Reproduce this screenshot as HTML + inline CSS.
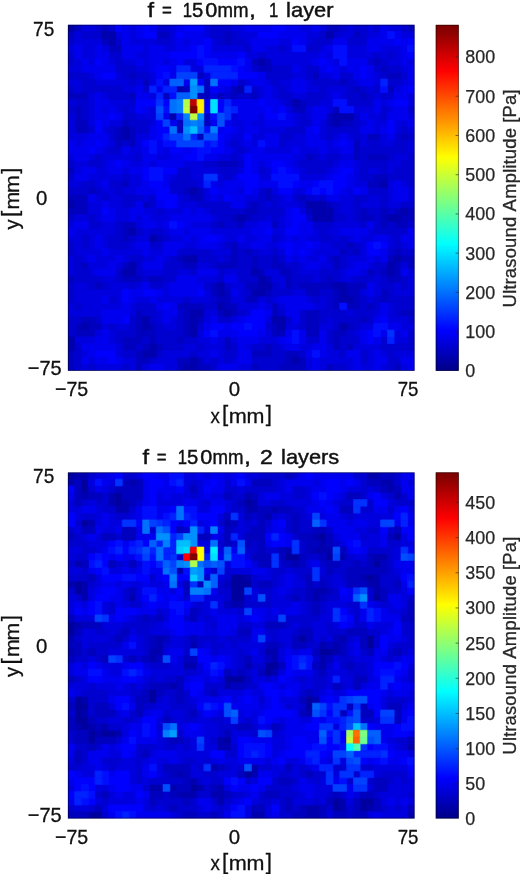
<!DOCTYPE html>
<html><head><meta charset="utf-8"><title>Ultrasound amplitude maps</title>
<style>
html,body{margin:0;padding:0;background:#fff;}
body{width:520px;height:874px;overflow:hidden;}
svg{display:block;}
text{font-family:"Liberation Sans",sans-serif;fill:#111;}
.c{font-size:17.9px;fill:#262626;stroke:#262626;stroke-width:0.25px;}
.h{fill:#262626;}
</style></head><body>
<svg width="520" height="874" viewBox="0 0 520 874">
<defs>
<filter id="b1" x="-5%" y="-5%" width="110%" height="110%"><feGaussianBlur stdDeviation="0.075"/></filter>
<filter id="b2" x="-5%" y="-5%" width="110%" height="110%"><feGaussianBlur stdDeviation="0.07"/></filter>

<linearGradient id="cb" x1="0" y1="0" x2="0" y2="1"><stop offset="0.0078" stop-color="#800000"/><stop offset="0.0234" stop-color="#8f0000"/><stop offset="0.0391" stop-color="#9f0000"/><stop offset="0.0547" stop-color="#af0000"/><stop offset="0.0703" stop-color="#bf0000"/><stop offset="0.0859" stop-color="#cf0000"/><stop offset="0.1016" stop-color="#df0000"/><stop offset="0.1172" stop-color="#ef0000"/><stop offset="0.1328" stop-color="#ff0000"/><stop offset="0.1484" stop-color="#ff1000"/><stop offset="0.1641" stop-color="#ff2000"/><stop offset="0.1797" stop-color="#ff3000"/><stop offset="0.1953" stop-color="#ff4000"/><stop offset="0.2109" stop-color="#ff5000"/><stop offset="0.2266" stop-color="#ff6000"/><stop offset="0.2422" stop-color="#ff7000"/><stop offset="0.2578" stop-color="#ff8000"/><stop offset="0.2734" stop-color="#ff8f00"/><stop offset="0.2891" stop-color="#ff9f00"/><stop offset="0.3047" stop-color="#ffaf00"/><stop offset="0.3203" stop-color="#ffbf00"/><stop offset="0.3359" stop-color="#ffcf00"/><stop offset="0.3516" stop-color="#ffdf00"/><stop offset="0.3672" stop-color="#ffef00"/><stop offset="0.3828" stop-color="#ffff00"/><stop offset="0.3984" stop-color="#efff10"/><stop offset="0.4141" stop-color="#dfff20"/><stop offset="0.4297" stop-color="#cfff30"/><stop offset="0.4453" stop-color="#bfff40"/><stop offset="0.4609" stop-color="#afff50"/><stop offset="0.4766" stop-color="#9fff60"/><stop offset="0.4922" stop-color="#8fff70"/><stop offset="0.5078" stop-color="#80ff80"/><stop offset="0.5234" stop-color="#70ff8f"/><stop offset="0.5391" stop-color="#60ff9f"/><stop offset="0.5547" stop-color="#50ffaf"/><stop offset="0.5703" stop-color="#40ffbf"/><stop offset="0.5859" stop-color="#30ffcf"/><stop offset="0.6016" stop-color="#20ffdf"/><stop offset="0.6172" stop-color="#10ffef"/><stop offset="0.6328" stop-color="#00ffff"/><stop offset="0.6484" stop-color="#00efff"/><stop offset="0.6641" stop-color="#00dfff"/><stop offset="0.6797" stop-color="#00cfff"/><stop offset="0.6953" stop-color="#00bfff"/><stop offset="0.7109" stop-color="#00afff"/><stop offset="0.7266" stop-color="#009fff"/><stop offset="0.7422" stop-color="#008fff"/><stop offset="0.7578" stop-color="#0080ff"/><stop offset="0.7734" stop-color="#0070ff"/><stop offset="0.7891" stop-color="#0060ff"/><stop offset="0.8047" stop-color="#0050ff"/><stop offset="0.8203" stop-color="#0040ff"/><stop offset="0.8359" stop-color="#0030ff"/><stop offset="0.8516" stop-color="#0020ff"/><stop offset="0.8672" stop-color="#0010ff"/><stop offset="0.8828" stop-color="#0000ff"/><stop offset="0.8984" stop-color="#0000ef"/><stop offset="0.9141" stop-color="#0000df"/><stop offset="0.9297" stop-color="#0000cf"/><stop offset="0.9453" stop-color="#0000bf"/><stop offset="0.9609" stop-color="#0000af"/><stop offset="0.9766" stop-color="#00009f"/><stop offset="0.9922" stop-color="#00008f"/></linearGradient>
<linearGradient id="cb2" x1="0" y1="0" x2="0" y2="1"><stop offset="0.0078" stop-color="#800000"/><stop offset="0.0234" stop-color="#8f0000"/><stop offset="0.0391" stop-color="#9f0000"/><stop offset="0.0547" stop-color="#af0000"/><stop offset="0.0703" stop-color="#bf0000"/><stop offset="0.0859" stop-color="#cf0000"/><stop offset="0.1016" stop-color="#df0000"/><stop offset="0.1172" stop-color="#ef0000"/><stop offset="0.1328" stop-color="#ff0000"/><stop offset="0.1484" stop-color="#ff1000"/><stop offset="0.1641" stop-color="#ff2000"/><stop offset="0.1797" stop-color="#ff3000"/><stop offset="0.1953" stop-color="#ff4000"/><stop offset="0.2109" stop-color="#ff5000"/><stop offset="0.2266" stop-color="#ff6000"/><stop offset="0.2422" stop-color="#ff7000"/><stop offset="0.2578" stop-color="#ff8000"/><stop offset="0.2734" stop-color="#ff8f00"/><stop offset="0.2891" stop-color="#ff9f00"/><stop offset="0.3047" stop-color="#ffaf00"/><stop offset="0.3203" stop-color="#ffbf00"/><stop offset="0.3359" stop-color="#ffcf00"/><stop offset="0.3516" stop-color="#ffdf00"/><stop offset="0.3672" stop-color="#ffef00"/><stop offset="0.3828" stop-color="#ffff00"/><stop offset="0.3984" stop-color="#efff10"/><stop offset="0.4141" stop-color="#dfff20"/><stop offset="0.4297" stop-color="#cfff30"/><stop offset="0.4453" stop-color="#bfff40"/><stop offset="0.4609" stop-color="#afff50"/><stop offset="0.4766" stop-color="#9fff60"/><stop offset="0.4922" stop-color="#8fff70"/><stop offset="0.5078" stop-color="#80ff80"/><stop offset="0.5234" stop-color="#70ff8f"/><stop offset="0.5391" stop-color="#60ff9f"/><stop offset="0.5547" stop-color="#50ffaf"/><stop offset="0.5703" stop-color="#40ffbf"/><stop offset="0.5859" stop-color="#30ffcf"/><stop offset="0.6016" stop-color="#20ffdf"/><stop offset="0.6172" stop-color="#10ffef"/><stop offset="0.6328" stop-color="#00ffff"/><stop offset="0.6484" stop-color="#00efff"/><stop offset="0.6641" stop-color="#00dfff"/><stop offset="0.6797" stop-color="#00cfff"/><stop offset="0.6953" stop-color="#00bfff"/><stop offset="0.7109" stop-color="#00afff"/><stop offset="0.7266" stop-color="#009fff"/><stop offset="0.7422" stop-color="#008fff"/><stop offset="0.7578" stop-color="#0080ff"/><stop offset="0.7734" stop-color="#0070ff"/><stop offset="0.7891" stop-color="#0060ff"/><stop offset="0.8047" stop-color="#0050ff"/><stop offset="0.8203" stop-color="#0040ff"/><stop offset="0.8359" stop-color="#0030ff"/><stop offset="0.8516" stop-color="#0020ff"/><stop offset="0.8672" stop-color="#0010ff"/><stop offset="0.8828" stop-color="#0000ff"/><stop offset="0.8984" stop-color="#0000ef"/><stop offset="0.9141" stop-color="#0000df"/><stop offset="0.9297" stop-color="#0000cf"/><stop offset="0.9453" stop-color="#0000bf"/><stop offset="0.9609" stop-color="#0000af"/><stop offset="0.9766" stop-color="#00009f"/><stop offset="0.9922" stop-color="#00008f"/></linearGradient>
</defs>
<rect width="520" height="874" fill="#fff"/>
<svg x="67.9" y="24.85" width="346.65" height="345.95" viewBox="0 0 51 51" preserveAspectRatio="none" overflow="hidden">
<g filter="url(#b1)" stroke-width="0.1" stroke-linejoin="miter">
<rect x="-2" y="-2" width="55" height="55" fill="#0000e0"/>
<path fill="#00009f" stroke="#00009f" d="M0 0h1v1h-1z"/>
<path fill="#0000bf" stroke="#0000bf" d="M1 0h1v1h-1zM5 0h1v1h-1zM38 0h2v1h-2zM50 0h1v1h-1zM0 1h1v1h-1zM13 1h2v1h-2zM23 1h1v1h-1zM42 1h1v1h-1zM5 2h1v1h-1zM23 2h1v1h-1zM6 3h2v1h-2zM27 5h1v1h-1zM29 5h1v1h-1zM45 5h1v1h-1zM28 6h2v1h-2zM46 6h1v1h-1zM9 7h1v1h-1zM19 7h1v1h-1zM36 7h1v1h-1zM47 7h2v1h-2zM11 8h1v1h-1zM20 8h1v1h-1zM40 8h1v1h-1zM17 9h1v1h-1zM20 9h1v1h-1zM24 9h1v1h-1zM42 9h1v1h-1zM47 9h1v1h-1zM0 10h3v1h-3zM9 10h1v1h-1zM14 10h1v1h-1zM19 10h2v1h-2zM22 10h1v1h-1zM24 10h1v1h-1zM27 10h1v1h-1zM43 10h1v1h-1zM34 11h1v1h-1zM1 12h1v1h-1zM33 12h2v1h-2zM39 12h1v1h-1zM1 13h1v1h-1zM20 13h1v1h-1zM38 13h1v1h-1zM1 14h2v1h-2zM8 14h1v1h-1zM16 14h1v1h-1zM20 14h1v1h-1zM38 14h1v1h-1zM40 14h2v1h-2zM1 15h2v1h-2zM7 15h1v1h-1zM9 15h1v1h-1zM16 15h1v1h-1zM7 16h1v1h-1zM9 16h1v1h-1zM19 16h1v1h-1zM44 16h2v1h-2zM49 16h1v1h-1zM7 17h1v1h-1zM9 17h1v1h-1zM42 17h1v1h-1zM42 18h1v1h-1zM35 19h1v1h-1zM42 19h1v1h-1zM44 19h3v1h-3zM22 20h3v1h-3zM0 21h1v1h-1zM45 22h2v1h-2zM8 23h1v1h-1zM44 23h2v1h-2zM3 24h1v1h-1zM17 24h1v1h-1zM19 24h1v1h-1zM29 24h1v1h-1zM0 25h3v1h-3zM18 25h2v1h-2zM29 25h1v1h-1zM34 25h1v1h-1zM1 26h2v1h-2zM11 26h1v1h-1zM27 26h1v1h-1zM38 26h1v1h-1zM0 27h3v1h-3zM26 27h2v1h-2zM35 27h1v1h-1zM43 27h1v1h-1zM46 27h1v1h-1zM48 27h1v1h-1zM50 27h1v1h-1zM24 28h1v1h-1zM26 28h1v1h-1zM43 28h2v1h-2zM46 28h1v1h-1zM49 28h2v1h-2zM8 29h2v1h-2zM22 29h1v1h-1zM25 29h1v1h-1zM30 29h1v1h-1zM46 29h1v1h-1zM48 29h2v1h-2zM8 30h1v1h-1zM8 31h1v1h-1zM13 31h1v1h-1zM24 32h1v1h-1zM41 32h1v1h-1zM24 33h1v1h-1zM26 33h1v1h-1zM40 33h1v1h-1zM42 33h1v1h-1zM48 33h1v1h-1zM16 34h1v1h-1zM24 34h1v1h-1zM27 34h1v1h-1zM30 34h1v1h-1zM39 34h1v1h-1zM47 34h1v1h-1zM49 34h2v1h-2zM2 35h1v1h-1zM8 35h1v1h-1zM17 35h2v1h-2zM22 35h3v1h-3zM27 35h1v1h-1zM30 35h2v1h-2zM39 35h1v1h-1zM48 35h1v1h-1zM50 35h1v1h-1zM28 36h1v1h-1zM31 36h2v1h-2zM44 36h1v1h-1zM46 36h1v1h-1zM48 36h1v1h-1zM0 37h1v1h-1zM8 37h3v1h-3zM12 37h2v1h-2zM29 37h1v1h-1zM32 37h1v1h-1zM38 37h1v1h-1zM47 37h2v1h-2zM4 38h1v1h-1zM21 38h1v1h-1zM26 38h2v1h-2zM32 38h1v1h-1zM34 38h5v1h-5zM41 38h3v1h-3zM21 39h1v1h-1zM23 39h1v1h-1zM29 39h1v1h-1zM35 39h2v1h-2zM39 39h1v1h-1zM41 39h2v1h-2zM46 39h1v1h-1zM22 40h2v1h-2zM26 40h2v1h-2zM39 40h1v1h-1zM42 40h1v1h-1zM46 40h1v1h-1zM16 41h4v1h-4zM23 41h2v1h-2zM30 41h1v1h-1zM39 41h1v1h-1zM41 41h2v1h-2zM44 41h1v1h-1zM10 42h1v1h-1zM17 42h1v1h-1zM22 42h1v1h-1zM24 42h1v1h-1zM30 42h1v1h-1zM35 42h2v1h-2zM49 42h2v1h-2zM2 43h2v1h-2zM10 43h1v1h-1zM17 43h1v1h-1zM19 43h1v1h-1zM35 43h2v1h-2zM43 43h1v1h-1zM1 44h1v1h-1zM3 44h2v1h-2zM10 44h1v1h-1zM12 44h1v1h-1zM17 44h1v1h-1zM30 44h1v1h-1zM35 44h2v1h-2zM41 44h1v1h-1zM1 45h3v1h-3zM10 45h3v1h-3zM17 45h1v1h-1zM30 45h2v1h-2zM35 45h2v1h-2zM39 45h2v1h-2zM8 46h3v1h-3zM12 46h1v1h-1zM16 46h1v1h-1zM23 46h1v1h-1zM39 46h1v1h-1zM8 47h2v1h-2zM11 47h1v1h-1zM13 47h1v1h-1zM23 47h1v1h-1zM29 47h1v1h-1zM39 47h1v1h-1zM41 47h1v1h-1zM0 48h1v1h-1zM10 48h1v1h-1zM27 48h3v1h-3zM32 48h2v1h-2zM0 49h1v1h-1zM10 49h2v1h-2zM16 49h2v1h-2zM19 49h1v1h-1zM32 49h1v1h-1zM34 49h1v1h-1zM0 50h1v1h-1zM10 50h1v1h-1zM16 50h1v1h-1zM19 50h2v1h-2zM27 50h1v1h-1zM31 50h4v1h-4zM38 50h1v1h-1zM48 50h1v1h-1z"/>
<path fill="#0000df" stroke="#0000df" d="M2 0h2v1h-2zM9 0h1v1h-1zM15 0h1v1h-1zM20 0h1v1h-1zM24 0h2v1h-2zM34 0h2v1h-2zM37 0h1v1h-1zM41 0h1v1h-1zM44 0h1v1h-1zM47 0h2v1h-2zM1 1h1v1h-1zM7 1h1v1h-1zM9 1h1v1h-1zM15 1h1v1h-1zM20 1h1v1h-1zM25 1h3v1h-3zM35 1h2v1h-2zM40 1h2v1h-2zM44 1h2v1h-2zM49 1h2v1h-2zM1 2h4v1h-4zM9 2h4v1h-4zM15 2h1v1h-1zM17 2h1v1h-1zM21 2h1v1h-1zM26 2h1v1h-1zM31 2h2v1h-2zM35 2h1v1h-1zM0 3h1v1h-1zM2 3h2v1h-2zM5 3h1v1h-1zM11 3h1v1h-1zM14 3h2v1h-2zM21 3h5v1h-5zM29 3h2v1h-2zM32 3h1v1h-1zM37 3h1v1h-1zM41 3h3v1h-3zM46 3h3v1h-3zM2 4h2v1h-2zM10 4h2v1h-2zM26 4h2v1h-2zM29 4h8v1h-8zM38 4h1v1h-1zM41 4h4v1h-4zM46 4h1v1h-1zM48 4h1v1h-1zM1 5h1v1h-1zM3 5h1v1h-1zM6 5h1v1h-1zM8 5h2v1h-2zM11 5h1v1h-1zM14 5h1v1h-1zM17 5h2v1h-2zM30 5h6v1h-6zM39 5h1v1h-1zM47 5h2v1h-2zM50 5h1v1h-1zM0 6h2v1h-2zM10 6h2v1h-2zM18 6h2v1h-2zM34 6h1v1h-1zM40 6h1v1h-1zM49 6h1v1h-1zM3 7h1v1h-1zM7 7h1v1h-1zM12 7h1v1h-1zM20 7h1v1h-1zM33 7h2v1h-2zM37 7h2v1h-2zM45 7h1v1h-1zM0 8h2v1h-2zM4 8h5v1h-5zM10 8h1v1h-1zM12 8h1v1h-1zM14 8h1v1h-1zM26 8h1v1h-1zM29 8h1v1h-1zM31 8h2v1h-2zM35 8h1v1h-1zM42 8h1v1h-1zM45 8h1v1h-1zM49 8h1v1h-1zM1 9h1v1h-1zM8 9h2v1h-2zM23 9h1v1h-1zM28 9h1v1h-1zM30 9h1v1h-1zM32 9h1v1h-1zM35 9h2v1h-2zM38 9h3v1h-3zM44 9h1v1h-1zM48 9h1v1h-1zM3 10h1v1h-1zM5 10h1v1h-1zM12 10h1v1h-1zM21 10h1v1h-1zM28 10h1v1h-1zM30 10h1v1h-1zM33 10h2v1h-2zM38 10h1v1h-1zM40 10h1v1h-1zM45 10h1v1h-1zM50 10h1v1h-1zM0 11h1v1h-1zM3 11h1v1h-1zM6 11h3v1h-3zM31 11h1v1h-1zM37 11h2v1h-2zM46 11h1v1h-1zM50 11h1v1h-1zM3 12h1v1h-1zM5 12h1v1h-1zM7 12h1v1h-1zM9 12h1v1h-1zM12 12h1v1h-1zM32 12h1v1h-1zM35 12h1v1h-1zM38 12h1v1h-1zM42 12h3v1h-3zM47 12h1v1h-1zM0 13h1v1h-1zM3 13h1v1h-1zM10 13h3v1h-3zM24 13h1v1h-1zM28 13h1v1h-1zM33 13h1v1h-1zM35 13h1v1h-1zM44 13h2v1h-2zM50 13h1v1h-1zM0 14h1v1h-1zM3 14h1v1h-1zM6 14h2v1h-2zM12 14h1v1h-1zM24 14h2v1h-2zM27 14h2v1h-2zM33 14h1v1h-1zM37 14h1v1h-1zM43 14h1v1h-1zM45 14h2v1h-2zM48 14h2v1h-2zM0 15h1v1h-1zM5 15h1v1h-1zM25 15h1v1h-1zM28 15h4v1h-4zM37 15h1v1h-1zM45 15h1v1h-1zM48 15h1v1h-1zM50 15h1v1h-1zM0 16h3v1h-3zM10 16h2v1h-2zM24 16h2v1h-2zM27 16h2v1h-2zM33 16h2v1h-2zM37 16h1v1h-1zM39 16h1v1h-1zM41 16h1v1h-1zM43 16h1v1h-1zM46 16h1v1h-1zM1 17h1v1h-1zM6 17h1v1h-1zM10 17h1v1h-1zM23 17h1v1h-1zM25 17h1v1h-1zM27 17h1v1h-1zM32 17h3v1h-3zM38 17h1v1h-1zM43 17h1v1h-1zM46 17h2v1h-2zM50 17h1v1h-1zM5 18h1v1h-1zM9 18h2v1h-2zM14 18h1v1h-1zM24 18h1v1h-1zM26 18h1v1h-1zM29 18h4v1h-4zM34 18h3v1h-3zM38 18h2v1h-2zM50 18h1v1h-1zM0 19h1v1h-1zM3 19h1v1h-1zM5 19h5v1h-5zM13 19h2v1h-2zM22 19h2v1h-2zM25 19h1v1h-1zM33 19h2v1h-2zM37 19h1v1h-1zM40 19h2v1h-2zM48 19h2v1h-2zM1 20h2v1h-2zM5 20h1v1h-1zM9 20h2v1h-2zM12 20h1v1h-1zM17 20h3v1h-3zM28 20h1v1h-1zM33 20h1v1h-1zM39 20h1v1h-1zM42 20h1v1h-1zM47 20h2v1h-2zM1 21h1v1h-1zM4 21h2v1h-2zM8 21h1v1h-1zM18 21h4v1h-4zM25 21h1v1h-1zM29 21h1v1h-1zM34 21h1v1h-1zM38 21h1v1h-1zM42 21h1v1h-1zM44 21h2v1h-2zM47 21h1v1h-1zM3 22h5v1h-5zM9 22h2v1h-2zM15 22h1v1h-1zM18 22h2v1h-2zM22 22h1v1h-1zM24 22h1v1h-1zM28 22h2v1h-2zM34 22h4v1h-4zM42 22h1v1h-1zM0 23h2v1h-2zM4 23h1v1h-1zM9 23h2v1h-2zM19 23h1v1h-1zM22 23h1v1h-1zM42 23h2v1h-2zM47 23h1v1h-1zM49 23h1v1h-1zM5 24h2v1h-2zM8 24h2v1h-2zM20 24h1v1h-1zM25 24h1v1h-1zM30 24h1v1h-1zM33 24h2v1h-2zM41 24h1v1h-1zM47 24h1v1h-1zM50 24h1v1h-1zM4 25h1v1h-1zM6 25h2v1h-2zM11 25h1v1h-1zM16 25h1v1h-1zM20 25h1v1h-1zM22 25h1v1h-1zM26 25h2v1h-2zM31 25h1v1h-1zM36 25h1v1h-1zM40 25h2v1h-2zM44 25h2v1h-2zM47 25h1v1h-1zM50 25h1v1h-1zM3 26h2v1h-2zM6 26h2v1h-2zM16 26h3v1h-3zM29 26h1v1h-1zM31 26h3v1h-3zM40 26h2v1h-2zM43 26h3v1h-3zM47 26h2v1h-2zM3 27h2v1h-2zM7 27h2v1h-2zM11 27h2v1h-2zM14 27h3v1h-3zM18 27h1v1h-1zM20 27h1v1h-1zM34 27h1v1h-1zM40 27h2v1h-2zM1 28h2v1h-2zM4 28h1v1h-1zM7 28h2v1h-2zM10 28h1v1h-1zM12 28h3v1h-3zM21 28h1v1h-1zM29 28h1v1h-1zM31 28h1v1h-1zM41 28h1v1h-1zM0 29h1v1h-1zM5 29h2v1h-2zM10 29h1v1h-1zM13 29h1v1h-1zM18 29h3v1h-3zM26 29h2v1h-2zM31 29h1v1h-1zM39 29h4v1h-4zM1 30h6v1h-6zM11 30h1v1h-1zM14 30h1v1h-1zM17 30h1v1h-1zM21 30h6v1h-6zM30 30h2v1h-2zM36 30h1v1h-1zM38 30h2v1h-2zM44 30h1v1h-1zM0 31h2v1h-2zM3 31h1v1h-1zM5 31h1v1h-1zM10 31h2v1h-2zM15 31h2v1h-2zM18 31h1v1h-1zM23 31h2v1h-2zM26 31h2v1h-2zM31 31h1v1h-1zM33 31h1v1h-1zM35 31h2v1h-2zM39 31h1v1h-1zM41 31h1v1h-1zM43 31h2v1h-2zM47 31h1v1h-1zM1 32h1v1h-1zM3 32h1v1h-1zM5 32h1v1h-1zM9 32h1v1h-1zM17 32h2v1h-2zM22 32h1v1h-1zM25 32h2v1h-2zM29 32h2v1h-2zM37 32h2v1h-2zM43 32h1v1h-1zM47 32h1v1h-1zM49 32h1v1h-1zM1 33h4v1h-4zM6 33h5v1h-5zM12 33h2v1h-2zM21 33h3v1h-3zM28 33h2v1h-2zM31 33h1v1h-1zM36 33h4v1h-4zM43 33h1v1h-1zM0 34h1v1h-1zM2 34h1v1h-1zM4 34h3v1h-3zM8 34h1v1h-1zM11 34h2v1h-2zM14 34h1v1h-1zM22 34h1v1h-1zM33 34h1v1h-1zM35 34h2v1h-2zM41 34h3v1h-3zM45 34h1v1h-1zM0 35h1v1h-1zM3 35h3v1h-3zM7 35h1v1h-1zM19 35h2v1h-2zM34 35h1v1h-1zM37 35h2v1h-2zM41 35h1v1h-1zM44 35h1v1h-1zM49 35h1v1h-1zM0 36h1v1h-1zM3 36h1v1h-1zM11 36h3v1h-3zM16 36h2v1h-2zM23 36h2v1h-2zM29 36h2v1h-2zM34 36h3v1h-3zM40 36h1v1h-1zM43 36h1v1h-1zM50 36h1v1h-1zM5 37h2v1h-2zM19 37h3v1h-3zM30 37h2v1h-2zM36 37h1v1h-1zM40 37h2v1h-2zM45 37h1v1h-1zM50 37h1v1h-1zM1 38h2v1h-2zM6 38h3v1h-3zM10 38h1v1h-1zM14 38h1v1h-1zM24 38h2v1h-2zM31 38h1v1h-1zM45 38h1v1h-1zM48 38h1v1h-1zM50 38h1v1h-1zM1 39h7v1h-7zM14 39h1v1h-1zM20 39h1v1h-1zM25 39h1v1h-1zM33 39h2v1h-2zM43 39h1v1h-1zM45 39h1v1h-1zM48 39h3v1h-3zM1 40h4v1h-4zM7 40h1v1h-1zM10 40h2v1h-2zM13 40h4v1h-4zM18 40h3v1h-3zM24 40h2v1h-2zM28 40h1v1h-1zM30 40h1v1h-1zM35 40h1v1h-1zM37 40h1v1h-1zM44 40h1v1h-1zM0 41h1v1h-1zM2 41h6v1h-6zM9 41h1v1h-1zM25 41h3v1h-3zM29 41h1v1h-1zM31 41h1v1h-1zM36 41h2v1h-2zM47 41h1v1h-1zM0 42h5v1h-5zM9 42h1v1h-1zM13 42h1v1h-1zM20 42h2v1h-2zM26 42h1v1h-1zM41 42h1v1h-1zM45 42h1v1h-1zM47 42h1v1h-1zM13 43h1v1h-1zM15 43h1v1h-1zM20 43h1v1h-1zM24 43h1v1h-1zM29 43h1v1h-1zM38 43h1v1h-1zM47 43h3v1h-3zM5 44h1v1h-1zM7 44h2v1h-2zM14 44h2v1h-2zM32 44h2v1h-2zM37 44h2v1h-2zM43 44h2v1h-2zM49 44h2v1h-2zM4 45h1v1h-1zM6 45h1v1h-1zM19 45h1v1h-1zM29 45h1v1h-1zM42 45h1v1h-1zM48 45h1v1h-1zM1 46h3v1h-3zM6 46h1v1h-1zM19 46h2v1h-2zM22 46h1v1h-1zM24 46h1v1h-1zM28 46h3v1h-3zM48 46h2v1h-2zM7 47h1v1h-1zM17 47h2v1h-2zM20 47h3v1h-3zM26 47h1v1h-1zM31 47h1v1h-1zM34 47h2v1h-2zM38 47h1v1h-1zM42 47h4v1h-4zM2 48h1v1h-1zM7 48h1v1h-1zM14 48h4v1h-4zM19 48h2v1h-2zM22 48h1v1h-1zM38 48h2v1h-2zM44 48h1v1h-1zM46 48h1v1h-1zM48 48h3v1h-3zM3 49h1v1h-1zM8 49h2v1h-2zM13 49h3v1h-3zM20 49h1v1h-1zM22 49h1v1h-1zM24 49h1v1h-1zM35 49h1v1h-1zM37 49h5v1h-5zM44 49h1v1h-1zM2 50h1v1h-1zM4 50h4v1h-4zM9 50h1v1h-1zM11 50h1v1h-1zM14 50h2v1h-2zM25 50h2v1h-2zM35 50h1v1h-1zM37 50h1v1h-1zM41 50h1v1h-1zM43 50h2v1h-2zM46 50h1v1h-1zM49 50h1v1h-1z"/>
<path fill="#0000cf" stroke="#0000cf" d="M4 0h1v1h-1zM6 0h1v1h-1zM13 0h2v1h-2zM21 0h3v1h-3zM40 0h1v1h-1zM42 0h2v1h-2zM45 0h1v1h-1zM49 0h1v1h-1zM2 1h3v1h-3zM21 1h2v1h-2zM24 1h1v1h-1zM37 1h1v1h-1zM39 1h1v1h-1zM43 1h1v1h-1zM0 2h1v1h-1zM7 2h1v1h-1zM13 2h2v1h-2zM22 2h1v1h-1zM24 2h2v1h-2zM36 2h3v1h-3zM41 2h3v1h-3zM26 3h1v1h-1zM31 3h1v1h-1zM35 3h2v1h-2zM0 4h1v1h-1zM6 4h2v1h-2zM28 4h1v1h-1zM45 4h1v1h-1zM47 4h1v1h-1zM0 5h1v1h-1zM7 5h1v1h-1zM44 5h1v1h-1zM46 5h1v1h-1zM7 6h3v1h-3zM27 6h1v1h-1zM30 6h3v1h-3zM35 6h2v1h-2zM45 6h1v1h-1zM47 6h2v1h-2zM0 7h3v1h-3zM8 7h1v1h-1zM10 7h2v1h-2zM29 7h4v1h-4zM35 7h1v1h-1zM40 7h2v1h-2zM46 7h1v1h-1zM49 7h1v1h-1zM2 8h2v1h-2zM9 8h1v1h-1zM25 8h1v1h-1zM30 8h1v1h-1zM36 8h4v1h-4zM41 8h1v1h-1zM47 8h2v1h-2zM0 9h1v1h-1zM2 9h6v1h-6zM11 9h1v1h-1zM27 9h1v1h-1zM31 9h1v1h-1zM37 9h1v1h-1zM41 9h1v1h-1zM43 9h1v1h-1zM45 9h1v1h-1zM6 10h3v1h-3zM23 10h1v1h-1zM25 10h2v1h-2zM31 10h2v1h-2zM35 10h3v1h-3zM41 10h2v1h-2zM44 10h1v1h-1zM46 10h2v1h-2zM1 11h2v1h-2zM9 11h1v1h-1zM32 11h1v1h-1zM35 11h2v1h-2zM41 11h4v1h-4zM0 12h1v1h-1zM2 12h1v1h-1zM8 12h1v1h-1zM46 12h1v1h-1zM50 12h1v1h-1zM2 13h1v1h-1zM8 13h2v1h-2zM34 13h1v1h-1zM42 13h1v1h-1zM46 13h1v1h-1zM9 14h3v1h-3zM34 14h2v1h-2zM42 14h1v1h-1zM3 15h1v1h-1zM6 15h1v1h-1zM10 15h2v1h-2zM32 15h3v1h-3zM38 15h5v1h-5zM49 15h1v1h-1zM6 16h1v1h-1zM31 16h2v1h-2zM38 16h1v1h-1zM42 16h1v1h-1zM48 16h1v1h-1zM50 16h1v1h-1zM8 17h1v1h-1zM24 17h1v1h-1zM31 17h1v1h-1zM44 17h2v1h-2zM48 17h2v1h-2zM6 18h2v1h-2zM25 18h1v1h-1zM43 18h7v1h-7zM4 19h1v1h-1zM10 19h1v1h-1zM24 19h1v1h-1zM36 19h1v1h-1zM38 19h2v1h-2zM43 19h1v1h-1zM47 19h1v1h-1zM50 19h1v1h-1zM0 20h1v1h-1zM3 20h2v1h-2zM20 20h2v1h-2zM25 20h1v1h-1zM34 20h5v1h-5zM43 20h4v1h-4zM49 20h2v1h-2zM16 21h2v1h-2zM22 21h3v1h-3zM28 21h1v1h-1zM35 21h3v1h-3zM43 21h1v1h-1zM46 21h1v1h-1zM48 21h3v1h-3zM0 22h1v1h-1zM8 22h1v1h-1zM16 22h2v1h-2zM23 22h1v1h-1zM43 22h2v1h-2zM47 22h4v1h-4zM2 23h2v1h-2zM6 23h2v1h-2zM15 23h4v1h-4zM50 23h1v1h-1zM0 24h3v1h-3zM4 24h1v1h-1zM7 24h1v1h-1zM15 24h2v1h-2zM28 24h1v1h-1zM44 24h3v1h-3zM5 25h1v1h-1zM8 25h3v1h-3zM12 25h1v1h-1zM17 25h1v1h-1zM28 25h1v1h-1zM30 25h1v1h-1zM33 25h1v1h-1zM35 25h1v1h-1zM37 25h1v1h-1zM42 25h2v1h-2zM46 25h1v1h-1zM8 26h2v1h-2zM12 26h1v1h-1zM19 26h5v1h-5zM26 26h1v1h-1zM28 26h1v1h-1zM30 26h1v1h-1zM34 26h1v1h-1zM39 26h1v1h-1zM42 26h1v1h-1zM46 26h1v1h-1zM49 26h2v1h-2zM13 27h1v1h-1zM21 27h5v1h-5zM28 27h4v1h-4zM39 27h1v1h-1zM42 27h1v1h-1zM44 27h2v1h-2zM47 27h1v1h-1zM0 28h1v1h-1zM3 28h1v1h-1zM22 28h2v1h-2zM27 28h2v1h-2zM30 28h1v1h-1zM35 28h1v1h-1zM39 28h2v1h-2zM42 28h1v1h-1zM45 28h1v1h-1zM3 29h2v1h-2zM7 29h1v1h-1zM21 29h1v1h-1zM23 29h2v1h-2zM36 29h3v1h-3zM43 29h1v1h-1zM45 29h1v1h-1zM47 29h1v1h-1zM50 29h1v1h-1zM7 30h1v1h-1zM10 30h1v1h-1zM12 30h2v1h-2zM37 30h1v1h-1zM45 30h5v1h-5zM2 31h1v1h-1zM6 31h2v1h-2zM9 31h1v1h-1zM14 31h1v1h-1zM30 31h1v1h-1zM37 31h2v1h-2zM40 31h1v1h-1zM48 31h1v1h-1zM0 32h1v1h-1zM2 32h1v1h-1zM6 32h3v1h-3zM12 32h2v1h-2zM23 32h1v1h-1zM39 32h2v1h-2zM42 32h1v1h-1zM48 32h1v1h-1zM0 33h1v1h-1zM16 33h5v1h-5zM25 33h1v1h-1zM27 33h1v1h-1zM30 33h1v1h-1zM41 33h1v1h-1zM47 33h1v1h-1zM49 33h2v1h-2zM1 34h1v1h-1zM9 34h2v1h-2zM15 34h1v1h-1zM19 34h3v1h-3zM23 34h1v1h-1zM25 34h2v1h-2zM28 34h2v1h-2zM31 34h1v1h-1zM38 34h1v1h-1zM40 34h1v1h-1zM1 35h1v1h-1zM10 35h1v1h-1zM14 35h3v1h-3zM21 35h1v1h-1zM25 35h2v1h-2zM28 35h2v1h-2zM32 35h2v1h-2zM40 35h1v1h-1zM45 35h2v1h-2zM1 36h2v1h-2zM7 36h1v1h-1zM10 36h1v1h-1zM14 36h2v1h-2zM18 36h1v1h-1zM22 36h1v1h-1zM25 36h2v1h-2zM33 36h1v1h-1zM37 36h3v1h-3zM45 36h1v1h-1zM1 37h4v1h-4zM7 37h1v1h-1zM11 37h1v1h-1zM14 37h2v1h-2zM22 37h1v1h-1zM25 37h3v1h-3zM33 37h3v1h-3zM37 37h1v1h-1zM39 37h1v1h-1zM42 37h3v1h-3zM46 37h1v1h-1zM49 37h1v1h-1zM0 38h1v1h-1zM3 38h1v1h-1zM5 38h1v1h-1zM9 38h1v1h-1zM12 38h2v1h-2zM20 38h1v1h-1zM23 38h1v1h-1zM30 38h1v1h-1zM33 38h1v1h-1zM46 38h2v1h-2zM49 38h1v1h-1zM0 39h1v1h-1zM26 39h1v1h-1zM30 39h3v1h-3zM37 39h2v1h-2zM47 39h1v1h-1zM0 40h1v1h-1zM6 40h1v1h-1zM17 40h1v1h-1zM21 40h1v1h-1zM29 40h1v1h-1zM36 40h1v1h-1zM38 40h1v1h-1zM43 40h1v1h-1zM45 40h1v1h-1zM47 40h4v1h-4zM1 41h1v1h-1zM10 41h3v1h-3zM20 41h2v1h-2zM38 41h1v1h-1zM43 41h1v1h-1zM45 41h1v1h-1zM48 41h3v1h-3zM11 42h2v1h-2zM16 42h1v1h-1zM25 42h1v1h-1zM31 42h1v1h-1zM34 42h1v1h-1zM37 42h4v1h-4zM42 42h3v1h-3zM48 42h1v1h-1zM0 43h2v1h-2zM4 43h1v1h-1zM9 43h1v1h-1zM12 43h1v1h-1zM16 43h1v1h-1zM22 43h2v1h-2zM32 43h1v1h-1zM34 43h1v1h-1zM37 43h1v1h-1zM39 43h4v1h-4zM44 43h1v1h-1zM50 43h1v1h-1zM0 44h1v1h-1zM6 44h1v1h-1zM9 44h1v1h-1zM13 44h1v1h-1zM16 44h1v1h-1zM19 44h1v1h-1zM29 44h1v1h-1zM34 44h1v1h-1zM39 44h1v1h-1zM42 44h1v1h-1zM0 45h1v1h-1zM7 45h3v1h-3zM13 45h4v1h-4zM38 45h1v1h-1zM41 45h1v1h-1zM50 45h1v1h-1zM7 46h1v1h-1zM11 46h1v1h-1zM13 46h3v1h-3zM17 46h2v1h-2zM35 46h2v1h-2zM38 46h1v1h-1zM40 46h3v1h-3zM46 46h1v1h-1zM50 46h1v1h-1zM1 47h1v1h-1zM10 47h1v1h-1zM14 47h3v1h-3zM19 47h1v1h-1zM24 47h1v1h-1zM27 47h2v1h-2zM30 47h1v1h-1zM40 47h1v1h-1zM46 47h5v1h-5zM1 48h1v1h-1zM8 48h2v1h-2zM13 48h1v1h-1zM18 48h1v1h-1zM23 48h2v1h-2zM30 48h2v1h-2zM34 48h1v1h-1zM40 48h1v1h-1zM43 48h1v1h-1zM47 48h1v1h-1zM1 49h1v1h-1zM12 49h1v1h-1zM21 49h1v1h-1zM23 49h1v1h-1zM27 49h5v1h-5zM43 49h1v1h-1zM47 49h2v1h-2zM1 50h1v1h-1zM3 50h1v1h-1zM8 50h1v1h-1zM21 50h1v1h-1zM28 50h3v1h-3zM39 50h2v1h-2zM47 50h1v1h-1z"/>
<path fill="#0000ff" stroke="#0000ff" d="M7 0h1v1h-1zM11 0h1v1h-1zM17 0h3v1h-3zM30 0h2v1h-2zM11 1h2v1h-2zM16 1h1v1h-1zM28 1h3v1h-3zM20 2h1v1h-1zM33 2h1v1h-1zM48 2h1v1h-1zM50 2h1v1h-1zM18 3h1v1h-1zM20 3h1v1h-1zM15 4h4v1h-4zM20 4h1v1h-1zM25 4h1v1h-1zM50 4h1v1h-1zM4 5h1v1h-1zM16 5h1v1h-1zM19 5h1v1h-1zM22 5h3v1h-3zM37 5h1v1h-1zM13 6h2v1h-2zM25 6h1v1h-1zM38 6h1v1h-1zM43 6h1v1h-1zM5 7h2v1h-2zM13 7h1v1h-1zM25 7h3v1h-3zM43 7h1v1h-1zM19 8h1v1h-1zM22 8h2v1h-2zM21 9h1v1h-1zM50 9h1v1h-1zM10 11h3v1h-3zM14 11h1v1h-1zM22 11h1v1h-1zM28 11h1v1h-1zM48 11h2v1h-2zM10 12h1v1h-1zM20 12h1v1h-1zM22 12h1v1h-1zM29 12h1v1h-1zM31 12h1v1h-1zM6 13h1v1h-1zM29 13h2v1h-2zM4 14h1v1h-1zM13 14h1v1h-1zM47 14h1v1h-1zM4 15h1v1h-1zM13 15h2v1h-2zM23 15h1v1h-1zM36 15h1v1h-1zM47 15h1v1h-1zM13 16h1v1h-1zM22 16h1v1h-1zM26 16h1v1h-1zM4 17h1v1h-1zM11 17h1v1h-1zM22 17h1v1h-1zM40 17h1v1h-1zM3 18h1v1h-1zM15 18h2v1h-2zM18 18h1v1h-1zM21 18h2v1h-2zM17 19h2v1h-2zM26 19h1v1h-1zM7 20h1v1h-1zM26 20h1v1h-1zM30 20h2v1h-2zM11 21h1v1h-1zM14 21h2v1h-2zM26 21h1v1h-1zM30 21h1v1h-1zM32 21h1v1h-1zM40 21h2v1h-2zM11 22h1v1h-1zM25 22h3v1h-3zM39 22h2v1h-2zM12 23h2v1h-2zM26 23h2v1h-2zM33 23h1v1h-1zM36 23h1v1h-1zM39 23h2v1h-2zM13 24h2v1h-2zM21 24h1v1h-1zM26 24h1v1h-1zM31 24h2v1h-2zM35 24h1v1h-1zM37 24h1v1h-1zM39 24h1v1h-1zM42 24h1v1h-1zM13 25h3v1h-3zM23 25h1v1h-1zM14 26h2v1h-2zM5 27h1v1h-1zM33 27h1v1h-1zM33 28h2v1h-2zM16 29h1v1h-1zM33 29h1v1h-1zM29 30h1v1h-1zM32 30h2v1h-2zM20 31h2v1h-2zM32 32h1v1h-1zM35 32h1v1h-1zM44 32h1v1h-1zM46 32h1v1h-1zM32 33h1v1h-1zM34 33h1v1h-1zM44 33h2v1h-2zM8 39h1v1h-1zM11 39h2v1h-2zM19 39h1v1h-1zM8 40h1v1h-1zM14 41h1v1h-1zM27 42h2v1h-2zM8 43h1v1h-1zM26 43h3v1h-3zM46 43h1v1h-1zM21 44h2v1h-2zM24 44h2v1h-2zM27 44h2v1h-2zM20 45h1v1h-1zM25 45h3v1h-3zM44 45h1v1h-1zM32 46h1v1h-1zM44 46h1v1h-1zM4 48h3v1h-3zM6 49h1v1h-1z"/>
<path fill="#0000ef" stroke="#0000ef" d="M8 0h1v1h-1zM10 0h1v1h-1zM12 0h1v1h-1zM16 0h1v1h-1zM26 0h4v1h-4zM32 0h2v1h-2zM36 0h1v1h-1zM46 0h1v1h-1zM8 1h1v1h-1zM10 1h1v1h-1zM17 1h3v1h-3zM31 1h4v1h-4zM46 1h1v1h-1zM48 1h1v1h-1zM8 2h1v1h-1zM16 2h1v1h-1zM18 2h2v1h-2zM27 2h4v1h-4zM34 2h1v1h-1zM39 2h2v1h-2zM44 2h4v1h-4zM49 2h1v1h-1zM1 3h1v1h-1zM4 3h1v1h-1zM8 3h3v1h-3zM12 3h2v1h-2zM16 3h2v1h-2zM27 3h2v1h-2zM38 3h1v1h-1zM44 3h2v1h-2zM49 3h1v1h-1zM1 4h1v1h-1zM4 4h2v1h-2zM8 4h2v1h-2zM12 4h3v1h-3zM21 4h4v1h-4zM37 4h1v1h-1zM49 4h1v1h-1zM2 5h1v1h-1zM5 5h1v1h-1zM10 5h1v1h-1zM12 5h2v1h-2zM15 5h1v1h-1zM26 5h1v1h-1zM36 5h1v1h-1zM38 5h1v1h-1zM41 5h3v1h-3zM49 5h1v1h-1zM2 6h5v1h-5zM12 6h1v1h-1zM15 6h1v1h-1zM26 6h1v1h-1zM33 6h1v1h-1zM37 6h1v1h-1zM39 6h1v1h-1zM41 6h2v1h-2zM44 6h1v1h-1zM50 6h1v1h-1zM4 7h1v1h-1zM15 7h1v1h-1zM28 7h1v1h-1zM39 7h1v1h-1zM42 7h1v1h-1zM44 7h1v1h-1zM50 7h1v1h-1zM17 8h1v1h-1zM24 8h1v1h-1zM27 8h2v1h-2zM33 8h2v1h-2zM43 8h2v1h-2zM50 8h1v1h-1zM10 9h1v1h-1zM13 9h1v1h-1zM22 9h1v1h-1zM29 9h1v1h-1zM33 9h2v1h-2zM49 9h1v1h-1zM4 10h1v1h-1zM10 10h2v1h-2zM29 10h1v1h-1zM39 10h1v1h-1zM48 10h2v1h-2zM4 11h2v1h-2zM20 11h1v1h-1zM24 11h4v1h-4zM29 11h2v1h-2zM45 11h1v1h-1zM47 11h1v1h-1zM4 12h1v1h-1zM6 12h1v1h-1zM11 12h1v1h-1zM25 12h4v1h-4zM30 12h1v1h-1zM36 12h2v1h-2zM45 12h1v1h-1zM48 12h2v1h-2zM4 13h2v1h-2zM7 13h1v1h-1zM14 13h1v1h-1zM25 13h3v1h-3zM32 13h1v1h-1zM36 13h2v1h-2zM43 13h1v1h-1zM47 13h3v1h-3zM5 14h1v1h-1zM15 14h1v1h-1zM21 14h1v1h-1zM23 14h1v1h-1zM26 14h1v1h-1zM29 14h4v1h-4zM36 14h1v1h-1zM44 14h1v1h-1zM50 14h1v1h-1zM12 15h1v1h-1zM22 15h1v1h-1zM24 15h1v1h-1zM26 15h2v1h-2zM35 15h1v1h-1zM43 15h2v1h-2zM46 15h1v1h-1zM3 16h3v1h-3zM12 16h1v1h-1zM23 16h1v1h-1zM29 16h2v1h-2zM35 16h2v1h-2zM40 16h1v1h-1zM47 16h1v1h-1zM0 17h1v1h-1zM2 17h2v1h-2zM5 17h1v1h-1zM13 17h1v1h-1zM26 17h1v1h-1zM29 17h2v1h-2zM35 17h3v1h-3zM39 17h1v1h-1zM41 17h1v1h-1zM0 18h3v1h-3zM4 18h1v1h-1zM8 18h1v1h-1zM11 18h1v1h-1zM13 18h1v1h-1zM17 18h1v1h-1zM23 18h1v1h-1zM27 18h2v1h-2zM33 18h1v1h-1zM37 18h1v1h-1zM40 18h2v1h-2zM1 19h2v1h-2zM11 19h2v1h-2zM15 19h2v1h-2zM20 19h2v1h-2zM27 19h6v1h-6zM6 20h1v1h-1zM8 20h1v1h-1zM11 20h1v1h-1zM13 20h4v1h-4zM27 20h1v1h-1zM29 20h1v1h-1zM32 20h1v1h-1zM40 20h2v1h-2zM2 21h2v1h-2zM6 21h2v1h-2zM9 21h2v1h-2zM27 21h1v1h-1zM33 21h1v1h-1zM39 21h1v1h-1zM1 22h2v1h-2zM14 22h1v1h-1zM38 22h1v1h-1zM41 22h1v1h-1zM5 23h1v1h-1zM11 23h1v1h-1zM14 23h1v1h-1zM21 23h1v1h-1zM23 23h3v1h-3zM28 23h3v1h-3zM34 23h2v1h-2zM41 23h1v1h-1zM48 23h1v1h-1zM10 24h3v1h-3zM22 24h3v1h-3zM27 24h1v1h-1zM40 24h1v1h-1zM43 24h1v1h-1zM48 24h2v1h-2zM3 25h1v1h-1zM21 25h1v1h-1zM24 25h2v1h-2zM32 25h1v1h-1zM38 25h2v1h-2zM48 25h2v1h-2zM5 26h1v1h-1zM10 26h1v1h-1zM13 26h1v1h-1zM24 26h2v1h-2zM6 27h1v1h-1zM9 27h2v1h-2zM17 27h1v1h-1zM19 27h1v1h-1zM32 27h1v1h-1zM5 28h2v1h-2zM9 28h1v1h-1zM11 28h1v1h-1zM15 28h6v1h-6zM32 28h1v1h-1zM1 29h2v1h-2zM11 29h2v1h-2zM14 29h1v1h-1zM17 29h1v1h-1zM28 29h2v1h-2zM32 29h1v1h-1zM34 29h2v1h-2zM44 29h1v1h-1zM0 30h1v1h-1zM15 30h2v1h-2zM18 30h3v1h-3zM27 30h2v1h-2zM34 30h2v1h-2zM40 30h4v1h-4zM50 30h1v1h-1zM4 31h1v1h-1zM17 31h1v1h-1zM19 31h1v1h-1zM22 31h1v1h-1zM25 31h1v1h-1zM28 31h2v1h-2zM32 31h1v1h-1zM34 31h1v1h-1zM42 31h1v1h-1zM45 31h2v1h-2zM49 31h2v1h-2zM4 32h1v1h-1zM10 32h2v1h-2zM14 32h3v1h-3zM19 32h3v1h-3zM27 32h2v1h-2zM31 32h1v1h-1zM33 32h2v1h-2zM36 32h1v1h-1zM50 32h1v1h-1zM5 33h1v1h-1zM11 33h1v1h-1zM14 33h2v1h-2zM33 33h1v1h-1zM35 33h1v1h-1zM46 33h1v1h-1zM3 34h1v1h-1zM7 34h1v1h-1zM13 34h1v1h-1zM32 34h1v1h-1zM34 34h1v1h-1zM37 34h1v1h-1zM44 34h1v1h-1zM46 34h1v1h-1zM6 35h1v1h-1zM11 35h3v1h-3zM35 35h2v1h-2zM42 35h2v1h-2zM4 36h3v1h-3zM19 36h3v1h-3zM41 36h2v1h-2zM49 36h1v1h-1zM16 37h3v1h-3zM23 37h2v1h-2zM11 38h1v1h-1zM15 38h5v1h-5zM44 38h1v1h-1zM9 39h2v1h-2zM13 39h1v1h-1zM15 39h4v1h-4zM24 39h1v1h-1zM44 39h1v1h-1zM5 40h1v1h-1zM9 40h1v1h-1zM12 40h1v1h-1zM31 40h4v1h-4zM8 41h1v1h-1zM13 41h1v1h-1zM15 41h1v1h-1zM28 41h1v1h-1zM32 41h4v1h-4zM46 41h1v1h-1zM5 42h4v1h-4zM14 42h2v1h-2zM29 42h1v1h-1zM32 42h2v1h-2zM46 42h1v1h-1zM5 43h3v1h-3zM14 43h1v1h-1zM21 43h1v1h-1zM25 43h1v1h-1zM33 43h1v1h-1zM45 43h1v1h-1zM20 44h1v1h-1zM23 44h1v1h-1zM47 44h2v1h-2zM5 45h1v1h-1zM22 45h3v1h-3zM28 45h1v1h-1zM32 45h1v1h-1zM34 45h1v1h-1zM37 45h1v1h-1zM43 45h1v1h-1zM46 45h1v1h-1zM49 45h1v1h-1zM4 46h2v1h-2zM21 46h1v1h-1zM25 46h3v1h-3zM31 46h1v1h-1zM34 46h1v1h-1zM37 46h1v1h-1zM43 46h1v1h-1zM45 46h1v1h-1zM2 47h5v1h-5zM25 47h1v1h-1zM32 47h2v1h-2zM36 47h2v1h-2zM3 48h1v1h-1zM21 48h1v1h-1zM25 48h2v1h-2zM35 48h1v1h-1zM37 48h1v1h-1zM41 48h2v1h-2zM45 48h1v1h-1zM2 49h1v1h-1zM4 49h2v1h-2zM7 49h1v1h-1zM25 49h2v1h-2zM36 49h1v1h-1zM42 49h1v1h-1zM45 49h2v1h-2zM49 49h2v1h-2zM12 50h2v1h-2zM22 50h3v1h-3zM36 50h1v1h-1zM42 50h1v1h-1zM45 50h1v1h-1zM50 50h1v1h-1z"/>
<path fill="#0000af" stroke="#0000af" d="M5 1h2v1h-2zM38 1h1v1h-1zM6 2h1v1h-1zM28 5h1v1h-1zM16 9h1v1h-1zM25 9h1v1h-1zM33 11h1v1h-1zM15 13h1v1h-1zM39 13h3v1h-3zM39 14h1v1h-1zM8 15h1v1h-1zM8 16h1v1h-1zM46 23h1v1h-1zM18 24h1v1h-1zM0 26h1v1h-1zM35 26h3v1h-3zM36 27h3v1h-3zM49 27h1v1h-1zM25 28h1v1h-1zM36 28h3v1h-3zM47 28h2v1h-2zM9 30h1v1h-1zM12 31h1v1h-1zM17 34h2v1h-2zM48 34h1v1h-1zM9 35h1v1h-1zM47 35h1v1h-1zM8 36h2v1h-2zM27 36h1v1h-1zM47 36h1v1h-1zM28 37h1v1h-1zM22 38h1v1h-1zM28 38h2v1h-2zM39 38h2v1h-2zM22 39h1v1h-1zM27 39h2v1h-2zM40 39h1v1h-1zM40 40h2v1h-2zM22 41h1v1h-1zM18 42h2v1h-2zM23 42h1v1h-1zM11 43h1v1h-1zM18 43h1v1h-1zM30 43h2v1h-2zM2 44h1v1h-1zM11 44h1v1h-1zM18 44h1v1h-1zM31 44h1v1h-1zM40 44h1v1h-1zM18 45h1v1h-1zM0 46h1v1h-1zM0 47h1v1h-1zM12 47h1v1h-1zM11 48h2v1h-2zM18 49h1v1h-1zM33 49h1v1h-1zM17 50h2v1h-2z"/>
<path fill="#0010ff" stroke="#0010ff" d="M47 1h1v1h-1zM19 3h1v1h-1zM33 3h2v1h-2zM39 3h2v1h-2zM50 3h1v1h-1zM19 4h1v1h-1zM39 4h2v1h-2zM20 5h2v1h-2zM25 5h1v1h-1zM40 5h1v1h-1zM24 6h1v1h-1zM14 7h1v1h-1zM13 8h1v1h-1zM46 9h1v1h-1zM15 10h1v1h-1zM39 11h2v1h-2zM14 12h1v1h-1zM40 12h2v1h-2zM21 13h1v1h-1zM31 13h1v1h-1zM20 15h1v1h-1zM12 17h1v1h-1zM14 17h2v1h-2zM20 17h1v1h-1zM28 17h1v1h-1zM12 18h1v1h-1zM19 18h2v1h-2zM19 19h1v1h-1zM12 21h2v1h-2zM31 21h1v1h-1zM12 22h2v1h-2zM30 22h4v1h-4zM31 23h2v1h-2zM37 23h2v1h-2zM36 24h1v1h-1zM38 24h1v1h-1zM15 29h1v1h-1zM45 32h1v1h-1zM40 41h1v1h-1zM26 44h1v1h-1zM45 44h2v1h-2zM21 45h1v1h-1zM33 45h1v1h-1zM45 45h1v1h-1zM33 46h1v1h-1zM36 48h1v1h-1z"/>
<path fill="#0020ff" stroke="#0020ff" d="M16 6h2v1h-2zM20 6h4v1h-4zM21 7h4v1h-4zM46 8h1v1h-1zM12 9h1v1h-1zM14 9h2v1h-2zM26 9h1v1h-1zM13 10h1v1h-1zM23 11h1v1h-1zM24 12h1v1h-1zM16 13h1v1h-1zM14 16h1v1h-1zM18 16h1v1h-1zM21 17h1v1h-1zM20 23h1v1h-1zM47 46h1v1h-1z"/>
<path fill="#0040ff" stroke="#0040ff" d="M16 7h3v1h-3zM13 13h1v1h-1zM14 14h1v1h-1zM15 16h2v1h-2zM16 17h4v1h-4z"/>
<path fill="#0060ff" stroke="#0060ff" d="M15 8h2v1h-2zM16 10h2v1h-2zM19 15h1v1h-1z"/>
<path fill="#009fff" stroke="#009fff" d="M18 8h1v1h-1z"/>
<path fill="#0070ff" stroke="#0070ff" d="M21 8h1v1h-1zM19 9h1v1h-1zM15 11h1v1h-1zM15 12h1v1h-1zM17 14h1v1h-1zM19 14h1v1h-1zM15 15h1v1h-1zM17 16h1v1h-1z"/>
<path fill="#008fff" stroke="#008fff" d="M18 9h1v1h-1zM18 10h1v1h-1zM19 13h1v1h-1zM17 15h1v1h-1z"/>
<path fill="#0030ff" stroke="#0030ff" d="M13 11h1v1h-1zM23 12h1v1h-1zM23 13h1v1h-1zM20 22h2v1h-2zM47 45h1v1h-1z"/>
<path fill="#0080ff" stroke="#0080ff" d="M16 11h1v1h-1zM16 12h1v1h-1zM17 13h1v1h-1zM18 14h1v1h-1zM21 15h1v1h-1z"/>
<path fill="#afff50" stroke="#afff50" d="M17 11h1v1h-1z"/>
<path fill="#bf0000" stroke="#bf0000" d="M18 11h1v1h-1z"/>
<path fill="#ffef00" stroke="#ffef00" d="M19 11h1v1h-1zM19 12h1v1h-1z"/>
<path fill="#00dfff" stroke="#00dfff" d="M21 11h1v1h-1zM21 12h1v1h-1z"/>
<path fill="#0050ff" stroke="#0050ff" d="M13 12h1v1h-1zM22 13h1v1h-1zM22 14h1v1h-1zM20 16h2v1h-2z"/>
<path fill="#bfff40" stroke="#bfff40" d="M17 12h1v1h-1zM18 13h1v1h-1z"/>
<path fill="#800000" stroke="#800000" d="M18 12h1v1h-1z"/>
<path fill="#00bfff" stroke="#00bfff" d="M18 15h1v1h-1z"/>
</g></svg>
<rect x="435.75" y="24.85" width="23.0" height="346.0" fill="url(#cb)"/>
<svg x="67.9" y="472.4" width="346.65" height="346.1" viewBox="0 0 51 51" preserveAspectRatio="none" overflow="hidden">
<g filter="url(#b2)" stroke-width="0.1" stroke-linejoin="miter">
<rect x="-2" y="-2" width="55" height="55" fill="#0000e0"/>
<path fill="#00009f" stroke="#00009f" d="M0 0h1v1h-1zM2 1h1v1h-1zM2 2h1v1h-1zM7 3h1v1h-1zM7 4h1v1h-1zM26 4h1v1h-1zM2 7h1v1h-1zM37 9h1v1h-1zM48 9h1v1h-1zM32 12h2v1h-2zM38 12h1v1h-1zM45 13h1v1h-1zM24 15h2v1h-2zM44 15h1v1h-1zM1 16h1v1h-1zM24 16h3v1h-3zM1 17h1v1h-1zM24 17h2v1h-2zM24 18h2v1h-2zM45 18h1v1h-1zM0 22h1v1h-1zM0 23h1v1h-1zM34 24h1v1h-1zM44 24h1v1h-1zM44 25h1v1h-1zM37 26h2v1h-2zM29 28h2v1h-2zM29 29h1v1h-1zM23 30h3v1h-3zM12 32h1v1h-1zM1 33h1v1h-1zM12 33h1v1h-1zM35 33h1v1h-1zM1 34h2v1h-2zM35 34h1v1h-1zM1 35h1v1h-1zM1 36h2v1h-2zM2 37h1v1h-1zM3 38h1v1h-1zM5 38h2v1h-2zM3 39h1v1h-1zM23 39h1v1h-1zM26 44h1v1h-1zM18 46h1v1h-1zM39 48h1v1h-1zM43 48h2v1h-2zM39 49h1v1h-1zM43 49h1v1h-1zM3 50h2v1h-2z"/>
<path fill="#0000af" stroke="#0000af" d="M1 0h2v1h-2zM44 0h2v1h-2zM0 1h1v1h-1zM9 1h1v1h-1zM46 1h2v1h-2zM47 2h1v1h-1zM2 3h1v1h-1zM6 3h1v1h-1zM26 3h1v1h-1zM48 3h1v1h-1zM6 4h1v1h-1zM8 4h1v1h-1zM27 4h1v1h-1zM7 5h2v1h-2zM26 5h2v1h-2zM30 5h1v1h-1zM29 6h1v1h-1zM3 7h1v1h-1zM23 7h1v1h-1zM36 9h1v1h-1zM37 10h1v1h-1zM32 11h1v1h-1zM36 11h3v1h-3zM40 12h1v1h-1zM45 12h2v1h-2zM1 13h1v1h-1zM33 13h1v1h-1zM16 14h1v1h-1zM26 15h1v1h-1zM43 15h1v1h-1zM45 15h1v1h-1zM0 16h1v1h-1zM2 16h1v1h-1zM44 16h2v1h-2zM2 17h1v1h-1zM36 17h2v1h-2zM45 17h1v1h-1zM2 18h1v1h-1zM9 18h1v1h-1zM36 18h1v1h-1zM24 19h2v1h-2zM1 22h1v1h-1zM0 24h1v1h-1zM13 24h1v1h-1zM40 24h1v1h-1zM13 25h1v1h-1zM18 25h1v1h-1zM37 25h1v1h-1zM39 25h1v1h-1zM0 26h1v1h-1zM12 26h2v1h-2zM29 26h2v1h-2zM39 26h1v1h-1zM12 27h1v1h-1zM30 27h1v1h-1zM37 27h1v1h-1zM17 28h2v1h-2zM26 28h1v1h-1zM37 28h1v1h-1zM30 29h1v1h-1zM15 31h1v1h-1zM23 31h1v1h-1zM2 33h1v1h-1zM36 33h1v1h-1zM2 35h1v1h-1zM35 35h1v1h-1zM1 37h1v1h-1zM3 37h1v1h-1zM5 37h1v1h-1zM4 38h1v1h-1zM7 38h1v1h-1zM22 39h1v1h-1zM22 40h2v1h-2zM50 40h1v1h-1zM21 43h1v1h-1zM27 43h1v1h-1zM16 44h1v1h-1zM27 44h1v1h-1zM18 45h1v1h-1zM12 46h2v1h-2zM15 46h1v1h-1zM19 46h1v1h-1zM22 46h1v1h-1zM16 47h3v1h-3zM21 47h2v1h-2zM22 48h1v1h-1zM40 48h1v1h-1zM35 49h2v1h-2zM40 49h1v1h-1zM44 49h1v1h-1zM27 50h2v1h-2zM35 50h2v1h-2zM50 50h1v1h-1z"/>
<path fill="#0000cf" stroke="#0000cf" d="M3 0h1v1h-1zM8 0h2v1h-2zM28 0h4v1h-4zM33 0h1v1h-1zM42 0h2v1h-2zM48 0h1v1h-1zM18 1h1v1h-1zM23 1h1v1h-1zM30 1h1v1h-1zM43 1h1v1h-1zM48 1h1v1h-1zM3 2h1v1h-1zM6 2h1v1h-1zM23 2h2v1h-2zM26 2h5v1h-5zM33 2h2v1h-2zM43 2h1v1h-1zM45 2h1v1h-1zM5 3h1v1h-1zM18 3h1v1h-1zM24 3h2v1h-2zM33 3h2v1h-2zM43 3h1v1h-1zM47 3h1v1h-1zM49 3h1v1h-1zM2 4h1v1h-1zM4 4h2v1h-2zM10 4h1v1h-1zM20 4h1v1h-1zM24 4h1v1h-1zM30 4h2v1h-2zM40 4h2v1h-2zM44 4h1v1h-1zM48 4h3v1h-3zM5 5h2v1h-2zM9 5h1v1h-1zM24 5h2v1h-2zM33 5h2v1h-2zM43 5h2v1h-2zM47 5h1v1h-1zM2 6h2v1h-2zM7 6h2v1h-2zM27 6h1v1h-1zM30 6h1v1h-1zM32 6h1v1h-1zM34 6h1v1h-1zM41 6h1v1h-1zM1 7h1v1h-1zM22 7h1v1h-1zM26 7h1v1h-1zM29 7h1v1h-1zM32 7h1v1h-1zM34 7h2v1h-2zM0 8h1v1h-1zM12 8h1v1h-1zM17 8h1v1h-1zM24 8h1v1h-1zM26 8h1v1h-1zM32 8h1v1h-1zM34 8h2v1h-2zM38 8h1v1h-1zM44 8h2v1h-2zM47 8h1v1h-1zM1 9h1v1h-1zM7 9h1v1h-1zM33 9h1v1h-1zM43 9h1v1h-1zM0 10h3v1h-3zM22 10h1v1h-1zM24 10h1v1h-1zM27 10h1v1h-1zM34 10h1v1h-1zM39 10h1v1h-1zM47 10h2v1h-2zM2 11h2v1h-2zM26 11h2v1h-2zM29 11h2v1h-2zM34 11h1v1h-1zM44 11h4v1h-4zM1 12h2v1h-2zM16 12h1v1h-1zM35 12h2v1h-2zM41 12h1v1h-1zM47 12h1v1h-1zM0 13h1v1h-1zM7 13h1v1h-1zM31 13h1v1h-1zM37 13h1v1h-1zM40 13h2v1h-2zM43 13h1v1h-1zM47 13h1v1h-1zM2 14h1v1h-1zM21 14h1v1h-1zM23 14h1v1h-1zM30 14h2v1h-2zM33 14h3v1h-3zM39 14h2v1h-2zM47 14h1v1h-1zM0 15h3v1h-3zM12 15h1v1h-1zM20 15h1v1h-1zM23 15h1v1h-1zM27 15h1v1h-1zM30 15h1v1h-1zM34 15h1v1h-1zM37 15h2v1h-2zM40 15h1v1h-1zM46 15h3v1h-3zM3 16h1v1h-1zM22 16h1v1h-1zM27 16h1v1h-1zM30 16h1v1h-1zM36 16h1v1h-1zM38 16h1v1h-1zM46 16h2v1h-2zM0 17h1v1h-1zM8 17h1v1h-1zM22 17h2v1h-2zM28 17h2v1h-2zM33 17h2v1h-2zM39 17h1v1h-1zM44 17h1v1h-1zM47 17h2v1h-2zM1 18h1v1h-1zM8 18h1v1h-1zM17 18h1v1h-1zM23 18h1v1h-1zM26 18h1v1h-1zM29 18h1v1h-1zM32 18h1v1h-1zM34 18h1v1h-1zM38 18h2v1h-2zM44 18h1v1h-1zM50 18h1v1h-1zM6 19h1v1h-1zM9 19h2v1h-2zM19 19h1v1h-1zM26 19h4v1h-4zM35 19h1v1h-1zM37 19h1v1h-1zM41 19h2v1h-2zM46 19h1v1h-1zM6 20h1v1h-1zM13 20h1v1h-1zM19 20h1v1h-1zM25 20h1v1h-1zM35 20h1v1h-1zM37 20h1v1h-1zM42 20h1v1h-1zM49 20h1v1h-1zM10 21h1v1h-1zM12 21h1v1h-1zM17 21h1v1h-1zM20 21h1v1h-1zM32 21h5v1h-5zM42 21h1v1h-1zM8 22h5v1h-5zM21 22h1v1h-1zM25 22h2v1h-2zM32 22h1v1h-1zM34 22h2v1h-2zM38 22h1v1h-1zM42 22h2v1h-2zM49 22h2v1h-2zM4 23h2v1h-2zM7 23h1v1h-1zM10 23h2v1h-2zM29 23h2v1h-2zM33 23h1v1h-1zM38 23h3v1h-3zM44 23h2v1h-2zM49 23h2v1h-2zM1 24h1v1h-1zM6 24h1v1h-1zM8 24h1v1h-1zM11 24h1v1h-1zM17 24h1v1h-1zM19 24h3v1h-3zM23 24h4v1h-4zM30 24h1v1h-1zM37 24h1v1h-1zM41 24h1v1h-1zM45 24h1v1h-1zM50 24h1v1h-1zM3 25h5v1h-5zM11 25h1v1h-1zM14 25h1v1h-1zM17 25h1v1h-1zM19 25h1v1h-1zM21 25h2v1h-2zM24 25h1v1h-1zM31 25h1v1h-1zM35 25h2v1h-2zM45 25h1v1h-1zM48 25h3v1h-3zM2 26h1v1h-1zM4 26h2v1h-2zM11 26h1v1h-1zM17 26h1v1h-1zM21 26h1v1h-1zM25 26h1v1h-1zM28 26h1v1h-1zM43 26h1v1h-1zM47 26h1v1h-1zM49 26h1v1h-1zM1 27h2v1h-2zM4 27h1v1h-1zM8 27h1v1h-1zM10 27h1v1h-1zM25 27h1v1h-1zM36 27h1v1h-1zM40 27h2v1h-2zM47 27h1v1h-1zM12 28h3v1h-3zM25 28h1v1h-1zM27 28h2v1h-2zM38 28h1v1h-1zM40 28h1v1h-1zM42 28h2v1h-2zM17 29h2v1h-2zM24 29h1v1h-1zM26 29h1v1h-1zM36 29h1v1h-1zM41 29h3v1h-3zM50 29h1v1h-1zM1 30h1v1h-1zM12 30h1v1h-1zM14 30h2v1h-2zM29 30h1v1h-1zM34 30h1v1h-1zM36 30h2v1h-2zM50 30h1v1h-1zM3 31h1v1h-1zM9 31h1v1h-1zM11 31h1v1h-1zM20 31h3v1h-3zM26 31h2v1h-2zM36 31h2v1h-2zM40 31h1v1h-1zM2 32h4v1h-4zM9 32h2v1h-2zM14 32h2v1h-2zM17 32h1v1h-1zM20 32h1v1h-1zM34 32h1v1h-1zM36 32h1v1h-1zM0 33h1v1h-1zM3 33h3v1h-3zM13 33h1v1h-1zM15 33h1v1h-1zM17 33h1v1h-1zM28 33h1v1h-1zM47 33h3v1h-3zM3 34h1v1h-1zM11 34h2v1h-2zM15 34h4v1h-4zM32 34h1v1h-1zM34 34h1v1h-1zM0 35h1v1h-1zM3 35h1v1h-1zM9 35h1v1h-1zM14 35h1v1h-1zM17 35h1v1h-1zM4 36h2v1h-2zM8 36h2v1h-2zM15 36h1v1h-1zM17 36h2v1h-2zM21 36h2v1h-2zM26 36h1v1h-1zM43 36h2v1h-2zM6 37h2v1h-2zM13 37h1v1h-1zM22 37h3v1h-3zM27 37h1v1h-1zM31 37h1v1h-1zM0 38h1v1h-1zM16 38h1v1h-1zM22 38h1v1h-1zM27 38h1v1h-1zM30 38h1v1h-1zM0 39h1v1h-1zM7 39h1v1h-1zM14 39h1v1h-1zM17 39h1v1h-1zM21 39h1v1h-1zM48 39h2v1h-2zM1 40h2v1h-2zM4 40h1v1h-1zM10 40h3v1h-3zM14 40h2v1h-2zM17 40h1v1h-1zM24 40h1v1h-1zM49 40h1v1h-1zM2 41h1v1h-1zM10 41h1v1h-1zM23 41h2v1h-2zM2 42h1v1h-1zM5 42h3v1h-3zM10 42h1v1h-1zM17 42h2v1h-2zM20 42h1v1h-1zM0 43h2v1h-2zM6 43h1v1h-1zM10 43h1v1h-1zM19 43h1v1h-1zM23 43h1v1h-1zM25 43h1v1h-1zM28 43h2v1h-2zM34 43h1v1h-1zM39 43h2v1h-2zM43 43h2v1h-2zM10 44h1v1h-1zM14 44h1v1h-1zM20 44h2v1h-2zM31 44h2v1h-2zM34 44h1v1h-1zM36 44h2v1h-2zM42 44h1v1h-1zM46 44h4v1h-4zM10 45h1v1h-1zM12 45h5v1h-5zM19 45h1v1h-1zM21 45h2v1h-2zM26 45h1v1h-1zM30 45h1v1h-1zM33 45h1v1h-1zM36 45h1v1h-1zM41 45h1v1h-1zM44 45h1v1h-1zM47 45h1v1h-1zM49 45h1v1h-1zM11 46h1v1h-1zM20 46h1v1h-1zM29 46h4v1h-4zM4 47h1v1h-1zM14 47h1v1h-1zM19 47h2v1h-2zM24 47h2v1h-2zM28 47h1v1h-1zM31 47h3v1h-3zM38 47h1v1h-1zM40 47h1v1h-1zM45 47h1v1h-1zM50 47h1v1h-1zM5 48h1v1h-1zM13 48h4v1h-4zM18 48h1v1h-1zM21 48h1v1h-1zM23 48h1v1h-1zM28 48h2v1h-2zM31 48h1v1h-1zM36 48h1v1h-1zM0 49h1v1h-1zM3 49h1v1h-1zM12 49h1v1h-1zM14 49h1v1h-1zM16 49h3v1h-3zM22 49h1v1h-1zM31 49h1v1h-1zM33 49h1v1h-1zM38 49h1v1h-1zM41 49h1v1h-1zM46 49h1v1h-1zM48 49h1v1h-1zM5 50h1v1h-1zM16 50h1v1h-1zM19 50h2v1h-2zM22 50h1v1h-1zM31 50h2v1h-2zM41 50h1v1h-1z"/>
<path fill="#0000df" stroke="#0000df" d="M4 0h2v1h-2zM10 0h1v1h-1zM17 0h2v1h-2zM20 0h1v1h-1zM23 0h1v1h-1zM26 0h2v1h-2zM3 1h1v1h-1zM6 1h1v1h-1zM17 1h1v1h-1zM19 1h1v1h-1zM31 1h1v1h-1zM36 1h1v1h-1zM50 1h1v1h-1zM5 2h1v1h-1zM17 2h1v1h-1zM19 2h1v1h-1zM25 2h1v1h-1zM31 2h1v1h-1zM35 2h1v1h-1zM41 2h2v1h-2zM44 2h1v1h-1zM13 3h1v1h-1zM15 3h3v1h-3zM19 3h1v1h-1zM21 3h2v1h-2zM28 3h1v1h-1zM31 3h2v1h-2zM35 3h1v1h-1zM40 3h1v1h-1zM46 3h1v1h-1zM0 4h1v1h-1zM3 4h1v1h-1zM13 4h4v1h-4zM19 4h1v1h-1zM23 4h1v1h-1zM28 4h2v1h-2zM32 4h4v1h-4zM39 4h1v1h-1zM47 4h1v1h-1zM0 5h2v1h-2zM4 5h1v1h-1zM19 5h2v1h-2zM23 5h1v1h-1zM50 5h1v1h-1zM1 6h1v1h-1zM4 6h1v1h-1zM6 6h1v1h-1zM9 6h1v1h-1zM22 6h1v1h-1zM25 6h1v1h-1zM31 6h1v1h-1zM35 6h1v1h-1zM37 6h1v1h-1zM40 6h1v1h-1zM42 6h6v1h-6zM4 7h1v1h-1zM6 7h2v1h-2zM19 7h1v1h-1zM25 7h1v1h-1zM27 7h1v1h-1zM41 7h1v1h-1zM44 7h2v1h-2zM1 8h1v1h-1zM5 8h2v1h-2zM20 8h1v1h-1zM25 8h1v1h-1zM29 8h1v1h-1zM42 8h2v1h-2zM2 9h1v1h-1zM4 9h1v1h-1zM22 9h1v1h-1zM25 9h1v1h-1zM39 9h1v1h-1zM44 9h2v1h-2zM49 9h1v1h-1zM3 10h3v1h-3zM19 10h2v1h-2zM40 10h1v1h-1zM43 10h3v1h-3zM49 10h2v1h-2zM0 11h2v1h-2zM4 11h1v1h-1zM22 11h1v1h-1zM48 11h1v1h-1zM0 12h1v1h-1zM26 12h1v1h-1zM42 12h2v1h-2zM48 12h1v1h-1zM8 13h1v1h-1zM10 13h1v1h-1zM23 13h1v1h-1zM27 13h1v1h-1zM35 13h1v1h-1zM0 14h2v1h-2zM6 14h2v1h-2zM9 14h1v1h-1zM24 14h3v1h-3zM29 14h1v1h-1zM32 14h1v1h-1zM37 14h1v1h-1zM48 14h1v1h-1zM4 15h1v1h-1zM22 15h1v1h-1zM28 15h2v1h-2zM31 15h1v1h-1zM33 15h1v1h-1zM39 15h1v1h-1zM4 16h1v1h-1zM7 16h1v1h-1zM9 16h2v1h-2zM12 16h2v1h-2zM16 16h1v1h-1zM31 16h1v1h-1zM33 16h2v1h-2zM39 16h2v1h-2zM3 17h1v1h-1zM10 17h1v1h-1zM15 17h1v1h-1zM27 17h1v1h-1zM30 17h1v1h-1zM32 17h1v1h-1zM49 17h1v1h-1zM0 18h1v1h-1zM3 18h1v1h-1zM10 18h1v1h-1zM20 18h3v1h-3zM27 18h1v1h-1zM30 18h2v1h-2zM49 18h1v1h-1zM0 19h1v1h-1zM2 19h1v1h-1zM5 19h1v1h-1zM8 19h1v1h-1zM18 19h1v1h-1zM20 19h1v1h-1zM22 19h1v1h-1zM30 19h3v1h-3zM34 19h1v1h-1zM38 19h3v1h-3zM45 19h1v1h-1zM47 19h1v1h-1zM49 19h1v1h-1zM0 20h1v1h-1zM5 20h1v1h-1zM14 20h1v1h-1zM20 20h1v1h-1zM22 20h3v1h-3zM29 20h1v1h-1zM31 20h1v1h-1zM34 20h1v1h-1zM38 20h1v1h-1zM41 20h1v1h-1zM47 20h2v1h-2zM1 21h3v1h-3zM9 21h1v1h-1zM14 21h1v1h-1zM19 21h1v1h-1zM21 21h1v1h-1zM25 21h1v1h-1zM29 21h2v1h-2zM37 21h2v1h-2zM5 22h3v1h-3zM13 22h1v1h-1zM20 22h1v1h-1zM27 22h2v1h-2zM33 22h1v1h-1zM36 22h2v1h-2zM39 22h1v1h-1zM45 22h3v1h-3zM2 23h2v1h-2zM6 23h1v1h-1zM9 23h1v1h-1zM12 23h3v1h-3zM20 23h2v1h-2zM24 23h1v1h-1zM31 23h2v1h-2zM36 23h2v1h-2zM46 23h1v1h-1zM2 24h4v1h-4zM10 24h1v1h-1zM15 24h2v1h-2zM22 24h1v1h-1zM29 24h1v1h-1zM31 24h2v1h-2zM36 24h1v1h-1zM38 24h1v1h-1zM42 24h1v1h-1zM49 24h1v1h-1zM2 25h1v1h-1zM10 25h1v1h-1zM15 25h2v1h-2zM20 25h1v1h-1zM23 25h1v1h-1zM25 25h4v1h-4zM32 25h1v1h-1zM41 25h1v1h-1zM47 25h1v1h-1zM6 26h5v1h-5zM14 26h1v1h-1zM22 26h3v1h-3zM26 26h1v1h-1zM31 26h1v1h-1zM33 26h1v1h-1zM41 26h1v1h-1zM50 26h1v1h-1zM3 27h1v1h-1zM16 27h1v1h-1zM24 27h1v1h-1zM27 27h2v1h-2zM31 27h1v1h-1zM39 27h1v1h-1zM42 27h3v1h-3zM46 27h1v1h-1zM48 27h1v1h-1zM0 28h1v1h-1zM2 28h1v1h-1zM5 28h3v1h-3zM11 28h1v1h-1zM15 28h2v1h-2zM19 28h1v1h-1zM24 28h1v1h-1zM44 28h1v1h-1zM50 28h1v1h-1zM0 29h1v1h-1zM6 29h2v1h-2zM12 29h5v1h-5zM19 29h1v1h-1zM27 29h1v1h-1zM31 29h1v1h-1zM38 29h3v1h-3zM44 29h1v1h-1zM2 30h1v1h-1zM11 30h1v1h-1zM13 30h1v1h-1zM17 30h1v1h-1zM20 30h1v1h-1zM22 30h1v1h-1zM27 30h2v1h-2zM30 30h1v1h-1zM33 30h1v1h-1zM35 30h1v1h-1zM38 30h1v1h-1zM40 30h2v1h-2zM44 30h1v1h-1zM49 30h1v1h-1zM0 31h3v1h-3zM4 31h3v1h-3zM8 31h1v1h-1zM10 31h1v1h-1zM31 31h1v1h-1zM34 31h2v1h-2zM38 31h1v1h-1zM41 31h1v1h-1zM43 31h1v1h-1zM1 32h1v1h-1zM6 32h3v1h-3zM22 32h4v1h-4zM27 32h2v1h-2zM37 32h1v1h-1zM39 32h2v1h-2zM47 32h1v1h-1zM50 32h1v1h-1zM9 33h1v1h-1zM14 33h1v1h-1zM18 33h1v1h-1zM24 33h1v1h-1zM31 33h3v1h-3zM46 33h1v1h-1zM50 33h1v1h-1zM6 34h1v1h-1zM13 34h2v1h-2zM28 34h1v1h-1zM33 34h1v1h-1zM46 34h1v1h-1zM49 34h1v1h-1zM7 35h1v1h-1zM11 35h1v1h-1zM15 35h2v1h-2zM19 35h1v1h-1zM22 35h1v1h-1zM25 35h1v1h-1zM27 35h1v1h-1zM6 36h2v1h-2zM10 36h1v1h-1zM13 36h1v1h-1zM16 36h1v1h-1zM19 36h2v1h-2zM23 36h1v1h-1zM25 36h1v1h-1zM27 36h1v1h-1zM31 36h1v1h-1zM34 36h2v1h-2zM45 36h1v1h-1zM8 37h1v1h-1zM16 37h1v1h-1zM20 37h2v1h-2zM29 37h1v1h-1zM39 37h1v1h-1zM8 38h1v1h-1zM13 38h1v1h-1zM20 38h2v1h-2zM24 38h3v1h-3zM31 38h1v1h-1zM13 39h1v1h-1zM18 39h1v1h-1zM20 39h1v1h-1zM24 39h1v1h-1zM30 39h2v1h-2zM47 39h1v1h-1zM6 40h1v1h-1zM13 40h1v1h-1zM16 40h1v1h-1zM18 40h1v1h-1zM20 40h2v1h-2zM30 40h2v1h-2zM48 40h1v1h-1zM6 41h2v1h-2zM12 41h1v1h-1zM16 41h5v1h-5zM30 41h1v1h-1zM50 41h1v1h-1zM0 42h1v1h-1zM8 42h2v1h-2zM11 42h1v1h-1zM13 42h2v1h-2zM16 42h1v1h-1zM19 42h1v1h-1zM21 42h1v1h-1zM23 42h2v1h-2zM29 42h1v1h-1zM32 42h2v1h-2zM38 42h1v1h-1zM40 42h1v1h-1zM2 43h2v1h-2zM5 43h1v1h-1zM7 43h3v1h-3zM13 43h1v1h-1zM18 43h1v1h-1zM24 43h1v1h-1zM30 43h2v1h-2zM33 43h1v1h-1zM35 43h1v1h-1zM45 43h5v1h-5zM2 44h2v1h-2zM9 44h1v1h-1zM13 44h1v1h-1zM18 44h2v1h-2zM22 44h3v1h-3zM30 44h1v1h-1zM33 44h1v1h-1zM39 44h1v1h-1zM45 44h1v1h-1zM9 45h1v1h-1zM11 45h1v1h-1zM20 45h1v1h-1zM27 45h1v1h-1zM35 45h1v1h-1zM37 45h1v1h-1zM48 45h1v1h-1zM50 45h1v1h-1zM0 46h1v1h-1zM4 46h2v1h-2zM23 46h1v1h-1zM33 46h1v1h-1zM36 46h3v1h-3zM44 46h1v1h-1zM47 46h4v1h-4zM6 47h1v1h-1zM8 47h2v1h-2zM26 47h1v1h-1zM34 47h1v1h-1zM36 47h2v1h-2zM42 47h1v1h-1zM46 47h4v1h-4zM4 48h1v1h-1zM6 48h4v1h-4zM11 48h1v1h-1zM24 48h1v1h-1zM27 48h1v1h-1zM30 48h1v1h-1zM33 48h3v1h-3zM37 48h1v1h-1zM41 48h1v1h-1zM46 48h1v1h-1zM48 48h1v1h-1zM50 48h1v1h-1zM1 49h2v1h-2zM5 49h1v1h-1zM11 49h1v1h-1zM13 49h1v1h-1zM19 49h1v1h-1zM21 49h1v1h-1zM23 49h1v1h-1zM26 49h1v1h-1zM29 49h1v1h-1zM47 49h1v1h-1zM49 49h1v1h-1zM15 50h1v1h-1zM26 50h1v1h-1zM29 50h1v1h-1zM38 50h1v1h-1zM44 50h1v1h-1zM46 50h4v1h-4z"/>
<path fill="#0000ef" stroke="#0000ef" d="M6 0h1v1h-1zM13 0h2v1h-2zM19 0h1v1h-1zM21 0h2v1h-2zM24 0h1v1h-1zM34 0h1v1h-1zM36 0h6v1h-6zM49 0h2v1h-2zM5 1h1v1h-1zM11 1h1v1h-1zM14 1h1v1h-1zM20 1h1v1h-1zM22 1h1v1h-1zM24 1h1v1h-1zM26 1h1v1h-1zM32 1h4v1h-4zM37 1h1v1h-1zM40 1h1v1h-1zM42 1h1v1h-1zM49 1h1v1h-1zM4 2h1v1h-1zM11 2h1v1h-1zM13 2h3v1h-3zM21 2h2v1h-2zM32 2h1v1h-1zM36 2h2v1h-2zM40 2h1v1h-1zM49 2h2v1h-2zM0 3h1v1h-1zM11 3h1v1h-1zM14 3h1v1h-1zM20 3h1v1h-1zM29 3h2v1h-2zM39 3h1v1h-1zM44 3h1v1h-1zM50 3h1v1h-1zM11 4h1v1h-1zM17 4h2v1h-2zM21 4h2v1h-2zM36 4h1v1h-1zM38 4h1v1h-1zM2 5h2v1h-2zM10 5h1v1h-1zM13 5h2v1h-2zM35 5h3v1h-3zM39 5h1v1h-1zM45 5h2v1h-2zM48 5h1v1h-1zM5 6h1v1h-1zM10 6h1v1h-1zM13 6h1v1h-1zM38 6h2v1h-2zM50 6h1v1h-1zM5 7h1v1h-1zM16 7h1v1h-1zM20 7h1v1h-1zM30 7h1v1h-1zM38 7h3v1h-3zM42 7h2v1h-2zM48 7h1v1h-1zM50 7h1v1h-1zM4 8h1v1h-1zM7 8h1v1h-1zM10 8h1v1h-1zM22 8h1v1h-1zM30 8h2v1h-2zM39 8h3v1h-3zM3 9h1v1h-1zM10 9h3v1h-3zM21 9h1v1h-1zM32 9h1v1h-1zM40 9h3v1h-3zM46 9h1v1h-1zM8 10h1v1h-1zM29 10h1v1h-1zM32 10h1v1h-1zM46 10h1v1h-1zM5 11h1v1h-1zM20 11h1v1h-1zM24 11h1v1h-1zM41 11h1v1h-1zM43 11h1v1h-1zM50 11h1v1h-1zM6 12h1v1h-1zM8 12h2v1h-2zM22 12h1v1h-1zM36 13h1v1h-1zM48 13h3v1h-3zM3 14h1v1h-1zM8 14h1v1h-1zM10 14h1v1h-1zM12 14h2v1h-2zM20 14h1v1h-1zM27 14h2v1h-2zM49 14h2v1h-2zM13 15h1v1h-1zM32 15h1v1h-1zM5 16h2v1h-2zM8 16h1v1h-1zM11 16h1v1h-1zM14 16h1v1h-1zM32 16h1v1h-1zM49 16h1v1h-1zM4 17h1v1h-1zM7 17h1v1h-1zM13 17h2v1h-2zM21 17h1v1h-1zM31 17h1v1h-1zM41 17h1v1h-1zM6 18h2v1h-2zM14 18h1v1h-1zM16 18h1v1h-1zM40 18h2v1h-2zM47 18h2v1h-2zM1 19h1v1h-1zM7 19h1v1h-1zM11 19h1v1h-1zM13 19h2v1h-2zM33 19h1v1h-1zM44 19h1v1h-1zM48 19h1v1h-1zM2 20h1v1h-1zM10 20h3v1h-3zM17 20h1v1h-1zM21 20h1v1h-1zM27 20h2v1h-2zM30 20h1v1h-1zM32 20h2v1h-2zM43 20h1v1h-1zM46 20h1v1h-1zM6 21h1v1h-1zM8 21h1v1h-1zM22 21h3v1h-3zM26 21h1v1h-1zM28 21h1v1h-1zM43 21h1v1h-1zM46 21h3v1h-3zM14 22h1v1h-1zM17 22h3v1h-3zM22 22h3v1h-3zM41 22h1v1h-1zM44 22h1v1h-1zM15 23h1v1h-1zM17 23h3v1h-3zM22 23h2v1h-2zM27 23h2v1h-2zM47 23h1v1h-1zM9 24h1v1h-1zM27 24h1v1h-1zM47 24h2v1h-2zM8 25h1v1h-1zM42 25h1v1h-1zM15 26h2v1h-2zM20 26h1v1h-1zM27 26h1v1h-1zM32 26h1v1h-1zM34 26h2v1h-2zM42 26h1v1h-1zM45 26h2v1h-2zM15 27h1v1h-1zM21 27h1v1h-1zM23 27h1v1h-1zM45 27h1v1h-1zM49 27h2v1h-2zM1 28h1v1h-1zM4 28h1v1h-1zM8 28h1v1h-1zM23 28h1v1h-1zM39 28h1v1h-1zM1 29h2v1h-2zM5 29h1v1h-1zM11 29h1v1h-1zM20 29h1v1h-1zM33 29h3v1h-3zM49 29h1v1h-1zM5 30h3v1h-3zM10 30h1v1h-1zM18 30h2v1h-2zM21 30h1v1h-1zM32 30h1v1h-1zM45 30h1v1h-1zM48 30h1v1h-1zM7 31h1v1h-1zM17 31h1v1h-1zM28 31h1v1h-1zM30 31h1v1h-1zM32 31h2v1h-2zM44 31h2v1h-2zM47 31h1v1h-1zM49 31h2v1h-2zM0 32h1v1h-1zM19 32h1v1h-1zM26 32h1v1h-1zM31 32h1v1h-1zM33 32h1v1h-1zM38 32h1v1h-1zM46 32h1v1h-1zM48 32h2v1h-2zM6 33h1v1h-1zM19 33h4v1h-4zM25 33h1v1h-1zM27 33h1v1h-1zM29 33h1v1h-1zM37 33h1v1h-1zM39 33h1v1h-1zM9 34h1v1h-1zM24 34h4v1h-4zM29 34h1v1h-1zM31 34h1v1h-1zM44 34h1v1h-1zM50 34h1v1h-1zM8 35h1v1h-1zM12 35h2v1h-2zM21 35h1v1h-1zM26 35h1v1h-1zM28 35h1v1h-1zM33 35h1v1h-1zM49 35h1v1h-1zM30 36h1v1h-1zM32 36h2v1h-2zM37 36h1v1h-1zM49 36h1v1h-1zM9 37h2v1h-2zM17 37h1v1h-1zM19 37h1v1h-1zM28 37h1v1h-1zM32 37h3v1h-3zM45 37h3v1h-3zM10 38h1v1h-1zM17 38h3v1h-3zM32 38h5v1h-5zM46 38h2v1h-2zM50 38h1v1h-1zM8 39h1v1h-1zM10 39h3v1h-3zM27 39h3v1h-3zM32 39h1v1h-1zM35 39h2v1h-2zM46 39h1v1h-1zM0 40h1v1h-1zM5 40h1v1h-1zM7 40h1v1h-1zM32 40h1v1h-1zM47 40h1v1h-1zM0 41h1v1h-1zM3 41h3v1h-3zM9 41h1v1h-1zM13 41h3v1h-3zM31 41h1v1h-1zM38 41h1v1h-1zM48 41h2v1h-2zM3 42h2v1h-2zM12 42h1v1h-1zM15 42h1v1h-1zM22 42h1v1h-1zM25 42h4v1h-4zM30 42h1v1h-1zM34 42h1v1h-1zM37 42h1v1h-1zM44 42h1v1h-1zM47 42h2v1h-2zM4 43h1v1h-1zM11 43h1v1h-1zM36 43h1v1h-1zM1 44h1v1h-1zM6 44h1v1h-1zM11 44h1v1h-1zM28 44h2v1h-2zM50 44h1v1h-1zM0 45h1v1h-1zM34 45h1v1h-1zM39 45h1v1h-1zM6 46h1v1h-1zM9 46h2v1h-2zM25 46h2v1h-2zM28 46h1v1h-1zM34 46h2v1h-2zM41 46h1v1h-1zM7 47h1v1h-1zM11 47h1v1h-1zM27 47h1v1h-1zM35 47h1v1h-1zM41 47h1v1h-1zM0 48h1v1h-1zM10 48h1v1h-1zM19 48h2v1h-2zM25 48h1v1h-1zM47 48h1v1h-1zM49 48h1v1h-1zM20 49h1v1h-1zM6 50h1v1h-1zM10 50h5v1h-5zM23 50h1v1h-1zM30 50h1v1h-1zM45 50h1v1h-1z"/>
<path fill="#0000ff" stroke="#0000ff" d="M7 0h1v1h-1zM11 0h2v1h-2zM25 0h1v1h-1zM35 0h1v1h-1zM12 1h2v1h-2zM21 1h1v1h-1zM38 1h2v1h-2zM41 1h1v1h-1zM0 2h1v1h-1zM12 2h1v1h-1zM16 2h1v1h-1zM20 2h1v1h-1zM38 2h2v1h-2zM12 3h1v1h-1zM36 3h1v1h-1zM38 3h1v1h-1zM45 3h1v1h-1zM12 4h1v1h-1zM37 4h1v1h-1zM45 4h2v1h-2zM15 5h1v1h-1zM21 5h2v1h-2zM38 5h1v1h-1zM49 5h1v1h-1zM0 6h1v1h-1zM19 6h3v1h-3zM48 6h1v1h-1zM0 7h1v1h-1zM10 7h1v1h-1zM15 7h1v1h-1zM17 7h1v1h-1zM21 7h1v1h-1zM31 7h1v1h-1zM15 8h1v1h-1zM46 8h1v1h-1zM49 8h2v1h-2zM29 9h1v1h-1zM31 9h1v1h-1zM50 9h1v1h-1zM6 10h1v1h-1zM11 10h1v1h-1zM30 10h2v1h-2zM41 10h1v1h-1zM8 11h1v1h-1zM42 11h1v1h-1zM3 12h1v1h-1zM5 12h1v1h-1zM7 12h1v1h-1zM5 13h1v1h-1zM12 13h1v1h-1zM26 13h1v1h-1zM4 14h1v1h-1zM5 15h3v1h-3zM10 15h2v1h-2zM14 15h1v1h-1zM16 15h2v1h-2zM49 15h1v1h-1zM5 17h2v1h-2zM16 17h1v1h-1zM40 17h1v1h-1zM50 17h1v1h-1zM4 18h2v1h-2zM11 18h1v1h-1zM13 18h1v1h-1zM15 18h1v1h-1zM3 19h1v1h-1zM12 19h1v1h-1zM17 19h1v1h-1zM1 20h1v1h-1zM3 20h1v1h-1zM7 20h3v1h-3zM15 20h1v1h-1zM40 20h1v1h-1zM7 21h1v1h-1zM15 21h2v1h-2zM27 21h1v1h-1zM41 21h1v1h-1zM15 22h2v1h-2zM40 22h1v1h-1zM48 22h1v1h-1zM16 23h1v1h-1zM48 23h1v1h-1zM46 24h1v1h-1zM46 25h1v1h-1zM19 26h1v1h-1zM19 27h2v1h-2zM22 27h1v1h-1zM32 27h1v1h-1zM3 28h1v1h-1zM9 28h2v1h-2zM20 28h1v1h-1zM32 28h1v1h-1zM45 28h3v1h-3zM49 28h1v1h-1zM22 29h1v1h-1zM32 29h1v1h-1zM45 29h1v1h-1zM48 29h1v1h-1zM3 30h2v1h-2zM8 30h2v1h-2zM31 30h1v1h-1zM18 31h2v1h-2zM29 31h1v1h-1zM48 31h1v1h-1zM18 32h1v1h-1zM29 32h2v1h-2zM32 32h1v1h-1zM41 32h5v1h-5zM7 33h2v1h-2zM23 33h1v1h-1zM26 33h1v1h-1zM30 33h1v1h-1zM38 33h1v1h-1zM44 33h2v1h-2zM7 34h1v1h-1zM19 34h1v1h-1zM22 34h1v1h-1zM30 34h1v1h-1zM45 34h1v1h-1zM20 35h1v1h-1zM29 35h4v1h-4zM38 35h1v1h-1zM45 35h1v1h-1zM50 35h1v1h-1zM11 36h2v1h-2zM29 36h1v1h-1zM36 36h1v1h-1zM12 37h1v1h-1zM18 37h1v1h-1zM35 37h2v1h-2zM44 37h1v1h-1zM48 37h1v1h-1zM9 38h1v1h-1zM12 38h1v1h-1zM40 38h1v1h-1zM48 38h2v1h-2zM25 39h2v1h-2zM33 39h2v1h-2zM38 39h1v1h-1zM40 39h1v1h-1zM8 40h2v1h-2zM25 40h1v1h-1zM29 40h1v1h-1zM33 40h3v1h-3zM38 40h2v1h-2zM44 40h1v1h-1zM8 41h1v1h-1zM21 41h2v1h-2zM25 41h1v1h-1zM29 41h1v1h-1zM32 41h3v1h-3zM37 41h1v1h-1zM47 41h1v1h-1zM31 42h1v1h-1zM43 42h1v1h-1zM45 42h1v1h-1zM49 42h1v1h-1zM50 43h1v1h-1zM0 44h1v1h-1zM7 44h2v1h-2zM12 44h1v1h-1zM1 45h3v1h-3zM6 45h3v1h-3zM23 45h1v1h-1zM25 45h1v1h-1zM28 45h2v1h-2zM1 46h1v1h-1zM3 46h1v1h-1zM7 46h2v1h-2zM24 46h1v1h-1zM27 46h1v1h-1zM0 47h1v1h-1zM10 47h1v1h-1zM3 48h1v1h-1zM26 48h1v1h-1zM6 49h5v1h-5zM24 49h1v1h-1zM30 49h1v1h-1z"/>
<path fill="#0010ff" stroke="#0010ff" d="M15 0h2v1h-2zM4 1h1v1h-1zM15 1h1v1h-1zM25 1h1v1h-1zM37 3h1v1h-1zM11 5h2v1h-2zM17 5h2v1h-2zM11 6h2v1h-2zM14 6h1v1h-1zM18 6h1v1h-1zM7 10h1v1h-1zM9 10h1v1h-1zM42 10h1v1h-1zM6 11h1v1h-1zM4 12h1v1h-1zM10 12h1v1h-1zM12 12h1v1h-1zM24 12h2v1h-2zM3 13h1v1h-1zM11 13h1v1h-1zM24 13h2v1h-2zM5 14h1v1h-1zM11 14h1v1h-1zM17 14h1v1h-1zM8 15h2v1h-2zM50 15h1v1h-1zM11 17h2v1h-2zM4 19h1v1h-1zM15 19h2v1h-2zM4 20h1v1h-1zM16 20h1v1h-1zM45 20h1v1h-1zM40 21h1v1h-1zM45 21h1v1h-1zM9 25h1v1h-1zM33 27h1v1h-1zM35 27h1v1h-1zM22 28h1v1h-1zM33 28h1v1h-1zM35 28h1v1h-1zM48 28h1v1h-1zM3 29h2v1h-2zM8 29h1v1h-1zM10 29h1v1h-1zM21 29h1v1h-1zM46 29h2v1h-2zM8 34h1v1h-1zM21 34h1v1h-1zM38 34h1v1h-1zM41 35h1v1h-1zM28 36h1v1h-1zM38 36h2v1h-2zM50 36h1v1h-1zM11 37h1v1h-1zM49 37h2v1h-2zM11 38h1v1h-1zM38 38h1v1h-1zM9 39h1v1h-1zM26 40h3v1h-3zM36 40h2v1h-2zM40 40h1v1h-1zM45 40h2v1h-2zM26 41h1v1h-1zM28 41h1v1h-1zM35 42h1v1h-1zM46 42h1v1h-1zM50 42h1v1h-1zM12 43h1v1h-1zM5 44h1v1h-1zM5 45h1v1h-1zM24 45h1v1h-1zM40 45h1v1h-1zM2 46h1v1h-1zM3 47h1v1h-1zM2 48h1v1h-1zM25 49h1v1h-1zM7 50h1v1h-1zM9 50h1v1h-1zM24 50h2v1h-2z"/>
<path fill="#0000bf" stroke="#0000bf" d="M32 0h1v1h-1zM46 0h2v1h-2zM1 1h1v1h-1zM8 1h1v1h-1zM10 1h1v1h-1zM27 1h3v1h-3zM44 1h2v1h-2zM1 2h1v1h-1zM7 2h4v1h-4zM18 2h1v1h-1zM46 2h1v1h-1zM48 2h1v1h-1zM1 3h1v1h-1zM3 3h2v1h-2zM8 3h3v1h-3zM23 3h1v1h-1zM27 3h1v1h-1zM41 3h2v1h-2zM1 4h1v1h-1zM9 4h1v1h-1zM25 4h1v1h-1zM28 5h2v1h-2zM31 5h2v1h-2zM40 5h2v1h-2zM23 6h1v1h-1zM26 6h1v1h-1zM28 6h1v1h-1zM33 6h1v1h-1zM24 7h1v1h-1zM28 7h1v1h-1zM33 7h1v1h-1zM2 8h2v1h-2zM8 8h2v1h-2zM16 8h1v1h-1zM23 8h1v1h-1zM27 8h2v1h-2zM33 8h1v1h-1zM36 8h2v1h-2zM48 8h1v1h-1zM0 9h1v1h-1zM5 9h2v1h-2zM8 9h2v1h-2zM19 9h2v1h-2zM23 9h1v1h-1zM26 9h3v1h-3zM34 9h2v1h-2zM38 9h1v1h-1zM47 9h1v1h-1zM23 10h1v1h-1zM26 10h1v1h-1zM28 10h1v1h-1zM35 10h2v1h-2zM38 10h1v1h-1zM28 11h1v1h-1zM31 11h1v1h-1zM35 11h1v1h-1zM40 11h1v1h-1zM27 12h3v1h-3zM31 12h1v1h-1zM34 12h1v1h-1zM37 12h1v1h-1zM44 12h1v1h-1zM2 13h1v1h-1zM6 13h1v1h-1zM9 13h1v1h-1zM28 13h2v1h-2zM32 13h1v1h-1zM34 13h1v1h-1zM38 13h2v1h-2zM42 13h1v1h-1zM44 13h1v1h-1zM46 13h1v1h-1zM38 14h1v1h-1zM41 14h6v1h-6zM3 15h1v1h-1zM35 15h1v1h-1zM41 15h2v1h-2zM17 16h1v1h-1zM19 16h1v1h-1zM23 16h1v1h-1zM28 16h2v1h-2zM35 16h1v1h-1zM37 16h1v1h-1zM41 16h3v1h-3zM48 16h1v1h-1zM9 17h1v1h-1zM17 17h1v1h-1zM35 17h1v1h-1zM38 17h1v1h-1zM46 17h1v1h-1zM33 18h1v1h-1zM35 18h1v1h-1zM37 18h1v1h-1zM46 18h1v1h-1zM23 19h1v1h-1zM36 19h1v1h-1zM50 19h1v1h-1zM18 20h1v1h-1zM36 20h1v1h-1zM50 20h1v1h-1zM0 21h1v1h-1zM11 21h1v1h-1zM13 21h1v1h-1zM18 21h1v1h-1zM49 21h2v1h-2zM2 22h3v1h-3zM29 22h3v1h-3zM1 23h1v1h-1zM8 23h1v1h-1zM25 23h2v1h-2zM34 23h2v1h-2zM41 23h3v1h-3zM7 24h1v1h-1zM12 24h1v1h-1zM14 24h1v1h-1zM18 24h1v1h-1zM33 24h1v1h-1zM35 24h1v1h-1zM39 24h1v1h-1zM43 24h1v1h-1zM0 25h2v1h-2zM12 25h1v1h-1zM29 25h2v1h-2zM33 25h2v1h-2zM38 25h1v1h-1zM40 25h1v1h-1zM43 25h1v1h-1zM1 26h1v1h-1zM3 26h1v1h-1zM36 26h1v1h-1zM40 26h1v1h-1zM44 26h1v1h-1zM48 26h1v1h-1zM0 27h1v1h-1zM5 27h1v1h-1zM9 27h1v1h-1zM11 27h1v1h-1zM13 27h1v1h-1zM17 27h2v1h-2zM26 27h1v1h-1zM29 27h1v1h-1zM38 27h1v1h-1zM31 28h1v1h-1zM36 28h1v1h-1zM41 28h1v1h-1zM23 29h1v1h-1zM25 29h1v1h-1zM28 29h1v1h-1zM37 29h1v1h-1zM0 30h1v1h-1zM16 30h1v1h-1zM26 30h1v1h-1zM42 30h2v1h-2zM12 31h3v1h-3zM16 31h1v1h-1zM24 31h2v1h-2zM39 31h1v1h-1zM42 31h1v1h-1zM11 32h1v1h-1zM13 32h1v1h-1zM16 32h1v1h-1zM21 32h1v1h-1zM35 32h1v1h-1zM10 33h2v1h-2zM16 33h1v1h-1zM34 33h1v1h-1zM0 34h1v1h-1zM4 34h2v1h-2zM10 34h1v1h-1zM41 34h1v1h-1zM43 34h1v1h-1zM47 34h2v1h-2zM4 35h3v1h-3zM10 35h1v1h-1zM18 35h1v1h-1zM34 35h1v1h-1zM40 35h1v1h-1zM43 35h2v1h-2zM48 35h1v1h-1zM0 36h1v1h-1zM3 36h1v1h-1zM14 36h1v1h-1zM48 36h1v1h-1zM0 37h1v1h-1zM4 37h1v1h-1zM25 37h2v1h-2zM30 37h1v1h-1zM1 38h2v1h-2zM23 38h1v1h-1zM1 39h2v1h-2zM4 39h3v1h-3zM15 39h2v1h-2zM50 39h1v1h-1zM3 40h1v1h-1zM1 41h1v1h-1zM11 41h1v1h-1zM1 42h1v1h-1zM14 43h4v1h-4zM22 43h1v1h-1zM32 43h1v1h-1zM15 44h1v1h-1zM17 44h1v1h-1zM25 44h1v1h-1zM35 44h1v1h-1zM17 45h1v1h-1zM31 45h2v1h-2zM45 45h2v1h-2zM16 46h2v1h-2zM21 46h1v1h-1zM45 46h2v1h-2zM5 47h1v1h-1zM12 47h2v1h-2zM15 47h1v1h-1zM23 47h1v1h-1zM29 47h2v1h-2zM39 47h1v1h-1zM43 47h2v1h-2zM12 48h1v1h-1zM17 48h1v1h-1zM32 48h1v1h-1zM38 48h1v1h-1zM42 48h1v1h-1zM45 48h1v1h-1zM4 49h1v1h-1zM15 49h1v1h-1zM27 49h2v1h-2zM32 49h1v1h-1zM34 49h1v1h-1zM37 49h1v1h-1zM42 49h1v1h-1zM45 49h1v1h-1zM50 49h1v1h-1zM0 50h3v1h-3zM17 50h2v1h-2zM21 50h1v1h-1zM33 50h2v1h-2zM37 50h1v1h-1zM39 50h2v1h-2zM42 50h2v1h-2z"/>
<path fill="#0030ff" stroke="#0030ff" d="M7 1h1v1h-1zM42 4h2v1h-2zM42 5h1v1h-1zM24 6h1v1h-1zM8 7h2v1h-2zM13 7h1v1h-1zM37 7h1v1h-1zM33 10h1v1h-1zM10 11h1v1h-1zM33 11h1v1h-1zM49 11h1v1h-1zM15 12h1v1h-1zM30 12h1v1h-1zM30 13h1v1h-1zM36 14h1v1h-1zM36 15h1v1h-1zM18 16h1v1h-1zM42 17h1v1h-1zM21 19h1v1h-1zM43 19h1v1h-1zM39 20h1v1h-1zM5 21h1v1h-1zM39 21h1v1h-1zM7 27h1v1h-1zM34 28h1v1h-1zM40 33h1v1h-1zM39 34h2v1h-2zM42 34h1v1h-1zM37 35h1v1h-1zM39 35h1v1h-1zM46 36h2v1h-2zM37 37h2v1h-2zM39 38h1v1h-1zM39 39h1v1h-1zM19 40h1v1h-1zM43 40h1v1h-1zM46 41h1v1h-1zM39 42h1v1h-1zM20 43h1v1h-1zM41 43h2v1h-2zM38 44h1v1h-1zM40 44h2v1h-2zM38 45h1v1h-1zM42 46h2v1h-2z"/>
<path fill="#0020ff" stroke="#0020ff" d="M16 1h1v1h-1zM15 6h1v1h-1zM17 6h1v1h-1zM49 6h1v1h-1zM14 7h1v1h-1zM18 7h1v1h-1zM49 7h1v1h-1zM19 8h1v1h-1zM15 9h1v1h-1zM24 9h1v1h-1zM30 9h1v1h-1zM10 10h1v1h-1zM13 10h1v1h-1zM15 10h1v1h-1zM7 11h1v1h-1zM9 11h1v1h-1zM12 11h1v1h-1zM14 11h2v1h-2zM14 12h1v1h-1zM20 12h1v1h-1zM4 13h1v1h-1zM13 13h1v1h-1zM50 16h1v1h-1zM12 18h1v1h-1zM18 18h2v1h-2zM44 20h1v1h-1zM44 21h1v1h-1zM34 27h1v1h-1zM21 28h1v1h-1zM9 29h1v1h-1zM39 30h1v1h-1zM46 30h2v1h-2zM46 31h1v1h-1zM20 34h1v1h-1zM40 36h1v1h-1zM40 37h1v1h-1zM27 41h1v1h-1zM35 41h2v1h-2zM42 41h4v1h-4zM36 42h1v1h-1zM37 43h2v1h-2zM4 44h1v1h-1zM43 44h2v1h-2zM4 45h1v1h-1zM1 47h2v1h-2zM1 48h1v1h-1zM8 50h1v1h-1z"/>
<path fill="#0070ff" stroke="#0070ff" d="M16 5h1v1h-1zM16 6h1v1h-1zM11 7h1v1h-1zM11 8h1v1h-1zM13 8h1v1h-1zM21 10h1v1h-1zM13 11h1v1h-1zM13 12h1v1h-1zM23 12h1v1h-1zM19 13h1v1h-1zM14 14h1v1h-1zM15 16h1v1h-1zM20 17h1v1h-1zM15 37h1v1h-1zM43 37h1v1h-1z"/>
<path fill="#0040ff" stroke="#0040ff" d="M36 6h1v1h-1zM12 7h1v1h-1zM46 7h2v1h-2zM16 9h1v1h-1zM11 12h1v1h-1zM39 12h1v1h-1zM50 12h1v1h-1zM15 13h1v1h-1zM22 14h1v1h-1zM26 17h1v1h-1zM26 20h1v1h-1zM4 21h1v1h-1zM31 21h1v1h-1zM28 24h1v1h-1zM18 26h1v1h-1zM6 27h1v1h-1zM41 33h1v1h-1zM37 34h1v1h-1zM46 35h2v1h-2zM24 36h1v1h-1zM41 36h1v1h-1zM29 38h1v1h-1zM19 39h1v1h-1zM39 41h2v1h-2zM41 42h1v1h-1zM42 45h2v1h-2zM39 46h2v1h-2z"/>
<path fill="#0060ff" stroke="#0060ff" d="M36 7h1v1h-1zM12 10h1v1h-1zM23 11h1v1h-1zM25 11h1v1h-1zM14 13h1v1h-1zM21 13h1v1h-1zM21 15h1v1h-1zM21 16h1v1h-1zM42 18h1v1h-1zM36 34h1v1h-1zM24 35h1v1h-1zM37 38h1v1h-1zM44 38h2v1h-2zM45 39h1v1h-1zM41 41h1v1h-1z"/>
<path fill="#0050ff" stroke="#0050ff" d="M14 8h1v1h-1zM25 10h1v1h-1zM11 11h1v1h-1zM39 11h1v1h-1zM49 12h1v1h-1zM20 13h1v1h-1zM22 13h1v1h-1zM15 14h1v1h-1zM43 17h1v1h-1zM28 18h1v1h-1zM14 27h1v1h-1zM42 33h2v1h-2zM23 34h1v1h-1zM23 35h1v1h-1zM36 35h1v1h-1zM42 35h1v1h-1zM42 36h1v1h-1zM14 37h1v1h-1zM41 37h1v1h-1zM28 38h1v1h-1zM37 39h1v1h-1zM44 39h1v1h-1zM42 42h1v1h-1zM26 43h1v1h-1zM14 46h1v1h-1z"/>
<path fill="#008fff" stroke="#008fff" d="M18 8h1v1h-1zM13 9h2v1h-2zM17 9h2v1h-2zM18 10h1v1h-1zM17 13h1v1h-1zM19 14h1v1h-1zM19 15h1v1h-1zM20 16h1v1h-1zM43 18h1v1h-1z"/>
<path fill="#0080ff" stroke="#0080ff" d="M21 8h1v1h-1zM14 10h1v1h-1zM16 13h1v1h-1zM15 15h1v1h-1zM18 17h2v1h-2zM14 38h1v1h-1z"/>
<path fill="#00bfff" stroke="#00bfff" d="M16 10h2v1h-2zM42 37h1v1h-1z"/>
<path fill="#00cfff" stroke="#00cfff" d="M16 11h1v1h-1zM18 15h1v1h-1z"/>
<path fill="#00dfff" stroke="#00dfff" d="M17 11h1v1h-1zM21 12h1v1h-1z"/>
<path fill="#ef0000" stroke="#ef0000" d="M18 11h1v1h-1z"/>
<path fill="#ffff00" stroke="#ffff00" d="M19 11h1v1h-1zM19 12h1v1h-1z"/>
<path fill="#00efff" stroke="#00efff" d="M21 11h1v1h-1z"/>
<path fill="#ff0000" stroke="#ff0000" d="M17 12h1v1h-1z"/>
<path fill="#800000" stroke="#800000" d="M18 12h1v1h-1z"/>
<path fill="#afff50" stroke="#afff50" d="M18 13h1v1h-1z"/>
<path fill="#009fff" stroke="#009fff" d="M18 14h1v1h-1zM15 38h1v1h-1z"/>
<path fill="#9fff60" stroke="#9fff60" d="M41 38h1v1h-1z"/>
<path fill="#ff7000" stroke="#ff7000" d="M42 38h1v1h-1z"/>
<path fill="#80ff80" stroke="#80ff80" d="M43 38h1v1h-1z"/>
<path fill="#bfff40" stroke="#bfff40" d="M41 39h1v1h-1z"/>
<path fill="#ff6000" stroke="#ff6000" d="M42 39h1v1h-1z"/>
<path fill="#70ff8f" stroke="#70ff8f" d="M43 39h1v1h-1z"/>
<path fill="#00ffff" stroke="#00ffff" d="M41 40h1v1h-1z"/>
<path fill="#50ffaf" stroke="#50ffaf" d="M42 40h1v1h-1z"/>
</g></svg>
<rect x="435.75" y="472.4" width="23.0" height="346.1" fill="url(#cb2)"/>
<rect x="68.30" y="25.25" width="345.85" height="345.15" fill="none" stroke="#000" stroke-opacity="0.55" stroke-width="0.8"/>
<rect x="68.30" y="472.80" width="345.85" height="345.30" fill="none" stroke="#000" stroke-opacity="0.55" stroke-width="0.8"/>
<rect x="436.15" y="25.25" width="22.20" height="345.20" fill="none" stroke="#000" stroke-opacity="0.55" stroke-width="0.8"/>
<rect x="436.15" y="472.80" width="22.20" height="345.30" fill="none" stroke="#000" stroke-opacity="0.55" stroke-width="0.8"/>
<text class="g" font-size="20.9" y="16.55" stroke="#111" stroke-width="0.45"><tspan x="147.57" textLength="6.58" lengthAdjust="spacingAndGlyphs">f</tspan> <tspan x="161.89" textLength="9.85" lengthAdjust="spacingAndGlyphs">=</tspan> <tspan x="182.78" textLength="9.30" lengthAdjust="spacingAndGlyphs">1</tspan><tspan x="192.09" textLength="11.26" lengthAdjust="spacingAndGlyphs">5</tspan><tspan x="205.28" textLength="12.05" lengthAdjust="spacingAndGlyphs">0</tspan><tspan x="217.57" textLength="31.04" lengthAdjust="spacingAndGlyphs">mm</tspan><tspan x="249.01" textLength="6.97" lengthAdjust="spacingAndGlyphs">,</tspan> <tspan x="268.98" textLength="9.30" lengthAdjust="spacingAndGlyphs">1</tspan> <tspan x="286.11" textLength="47.46" lengthAdjust="spacingAndGlyphs">layer</tspan></text>
<text class="g" font-size="20.9" y="463.65" stroke="#111" stroke-width="0.45"><tspan x="142.47" textLength="6.58" lengthAdjust="spacingAndGlyphs">f</tspan> <tspan x="156.79" textLength="9.85" lengthAdjust="spacingAndGlyphs">=</tspan> <tspan x="177.68" textLength="9.30" lengthAdjust="spacingAndGlyphs">1</tspan><tspan x="186.99" textLength="11.26" lengthAdjust="spacingAndGlyphs">5</tspan><tspan x="200.18" textLength="12.05" lengthAdjust="spacingAndGlyphs">0</tspan><tspan x="212.47" textLength="31.04" lengthAdjust="spacingAndGlyphs">mm</tspan><tspan x="243.91" textLength="6.97" lengthAdjust="spacingAndGlyphs">,</tspan> <tspan x="259.95" textLength="12.81" lengthAdjust="spacingAndGlyphs">2</tspan> <tspan x="281.12" textLength="58.17" lengthAdjust="spacingAndGlyphs">layers</tspan></text>
<text class="g" font-size="20.4" y="35.65" stroke="#111" stroke-width="0.3"><tspan x="33.11" textLength="21.19" lengthAdjust="spacingAndGlyphs">75</tspan></text>
<text class="g" font-size="20.4" y="205.20" stroke="#111" stroke-width="0.3"><tspan x="36.03">0</tspan></text>
<text class="g" font-size="20.4" y="374.95" stroke="#111" stroke-width="0.3"><tspan x="27.80" textLength="33.94" lengthAdjust="spacingAndGlyphs">−75</tspan></text>
<text class="g" font-size="20.4" y="396.45" stroke="#111" stroke-width="0.3"><tspan x="55.02" textLength="33.20" lengthAdjust="spacingAndGlyphs">−75</tspan></text>
<text class="g" font-size="20.4" y="396.15" stroke="#111" stroke-width="0.3"><tspan x="228.83">0</tspan></text>
<text class="g" font-size="20.4" y="396.30" stroke="#111" stroke-width="0.3"><tspan x="397.63" textLength="20.76" lengthAdjust="spacingAndGlyphs">75</tspan></text>
<text class="g" font-size="20.3" y="422.90" stroke="#111" stroke-width="0.3"><tspan x="210.58" textLength="9.35" lengthAdjust="spacingAndGlyphs">x</tspan><tspan x="221.98" y="421.06" font-size="22.32">[</tspan><tspan x="228.87" textLength="18.04" lengthAdjust="spacingAndGlyphs" y="422.90">m</tspan><tspan x="246.58" textLength="17.92" lengthAdjust="spacingAndGlyphs">m</tspan><tspan x="265.86" y="421.06" font-size="22.32">]</tspan></text>
<text class="g" font-size="20.3" transform="matrix(0 -1 1 0 19.20 0)" y="0" stroke="#111" stroke-width="0.3"><tspan x="-229.57">y</tspan><tspan x="-216.97" y="-1.84" font-size="22.32">[</tspan><tspan x="-209.60" textLength="17.68" lengthAdjust="spacingAndGlyphs" y="0.00">m</tspan><tspan x="-193.10" textLength="17.68" lengthAdjust="spacingAndGlyphs">m</tspan><tspan x="-173.69" y="-1.84" font-size="22.32">]</tspan></text>
<text class="h" font-size="18.4" transform="matrix(0 -1 1 0 516.40 0)" y="0" stroke="#262626" stroke-width="0.3"><tspan x="-307.40 -293.84 -289.67 -284.45 -278.20 -267.76 -258.37 -247.93 -237.48 -227.04 -216.60 -211.38 -198.86 -183.22 -172.78 -168.60 -164.43 -159.22 -148.77 -138.33 -127.89 -122.67 -117.46 -104.93 -94.49">Ultrasound Amplitude [Pa]</tspan></text>
<text class="g" font-size="20.4" y="483.15" stroke="#111" stroke-width="0.3"><tspan x="33.11" textLength="21.19" lengthAdjust="spacingAndGlyphs">75</tspan></text>
<text class="g" font-size="20.4" y="652.70" stroke="#111" stroke-width="0.3"><tspan x="36.03">0</tspan></text>
<text class="g" font-size="20.4" y="822.45" stroke="#111" stroke-width="0.3"><tspan x="27.80" textLength="33.94" lengthAdjust="spacingAndGlyphs">−75</tspan></text>
<text class="g" font-size="20.4" y="843.95" stroke="#111" stroke-width="0.3"><tspan x="55.02" textLength="33.20" lengthAdjust="spacingAndGlyphs">−75</tspan></text>
<text class="g" font-size="20.4" y="843.65" stroke="#111" stroke-width="0.3"><tspan x="228.83">0</tspan></text>
<text class="g" font-size="20.4" y="843.80" stroke="#111" stroke-width="0.3"><tspan x="397.63" textLength="20.76" lengthAdjust="spacingAndGlyphs">75</tspan></text>
<text class="g" font-size="20.3" y="870.40" stroke="#111" stroke-width="0.3"><tspan x="210.58" textLength="9.35" lengthAdjust="spacingAndGlyphs">x</tspan><tspan x="221.98" y="868.56" font-size="22.32">[</tspan><tspan x="228.87" textLength="18.04" lengthAdjust="spacingAndGlyphs" y="870.40">m</tspan><tspan x="246.58" textLength="17.92" lengthAdjust="spacingAndGlyphs">m</tspan><tspan x="265.86" y="868.56" font-size="22.32">]</tspan></text>
<text class="g" font-size="20.3" transform="matrix(0 -1 1 0 19.20 0)" y="0" stroke="#111" stroke-width="0.3"><tspan x="-677.08">y</tspan><tspan x="-664.47" y="-1.84" font-size="22.32">[</tspan><tspan x="-657.10" textLength="17.68" lengthAdjust="spacingAndGlyphs" y="0.00">m</tspan><tspan x="-640.60" textLength="17.68" lengthAdjust="spacingAndGlyphs">m</tspan><tspan x="-621.19" y="-1.84" font-size="22.32">]</tspan></text>
<text class="h" font-size="18.4" transform="matrix(0 -1 1 0 516.40 0)" y="0" stroke="#262626" stroke-width="0.3"><tspan x="-754.67 -741.12 -736.94 -731.73 -725.47 -715.03 -705.64 -695.20 -684.76 -674.32 -663.87 -658.66 -646.13 -630.49 -620.05 -615.88 -611.71 -606.49 -596.05 -585.61 -575.17 -569.95 -564.73 -552.21 -541.77">Ultrasound Amplitude [Pa]</tspan></text>
<text class="c" x="465.3" y="377.35">0</text>
<text class="c" x="465.3" y="338.11">100</text>
<path d="M455.6 331.66h3" stroke="#222" stroke-width="0.6"/>
<text class="c" x="465.3" y="298.87">200</text>
<path d="M455.6 292.42h3" stroke="#222" stroke-width="0.6"/>
<text class="c" x="465.3" y="259.63">300</text>
<path d="M455.6 253.18h3" stroke="#222" stroke-width="0.6"/>
<text class="c" x="465.3" y="220.39">400</text>
<path d="M455.6 213.94h3" stroke="#222" stroke-width="0.6"/>
<text class="c" x="465.3" y="181.15">500</text>
<path d="M455.6 174.70h3" stroke="#222" stroke-width="0.6"/>
<text class="c" x="465.3" y="141.91">600</text>
<path d="M455.6 135.46h3" stroke="#222" stroke-width="0.6"/>
<text class="c" x="465.3" y="102.67">700</text>
<path d="M455.6 96.22h3" stroke="#222" stroke-width="0.6"/>
<text class="c" x="465.3" y="63.43">800</text>
<path d="M455.6 56.98h3" stroke="#222" stroke-width="0.6"/>
<text class="c" x="465.3" y="825.45">0</text>
<text class="c" x="465.3" y="790.28">50</text>
<path d="M455.6 783.83h3" stroke="#222" stroke-width="0.6"/>
<text class="c" x="465.3" y="755.1">100</text>
<path d="M455.6 748.65h3" stroke="#222" stroke-width="0.6"/>
<text class="c" x="465.3" y="719.93">150</text>
<path d="M455.6 713.48h3" stroke="#222" stroke-width="0.6"/>
<text class="c" x="465.3" y="684.75">200</text>
<path d="M455.6 678.30h3" stroke="#222" stroke-width="0.6"/>
<text class="c" x="465.3" y="649.58">250</text>
<path d="M455.6 643.12h3" stroke="#222" stroke-width="0.6"/>
<text class="c" x="465.3" y="614.4">300</text>
<path d="M455.6 607.95h3" stroke="#222" stroke-width="0.6"/>
<text class="c" x="465.3" y="579.23">350</text>
<path d="M455.6 572.77h3" stroke="#222" stroke-width="0.6"/>
<text class="c" x="465.3" y="544.05">400</text>
<path d="M455.6 537.60h3" stroke="#222" stroke-width="0.6"/>
<text class="c" x="465.3" y="508.88">450</text>
<path d="M455.6 502.43h3" stroke="#222" stroke-width="0.6"/>
</svg></body></html>
